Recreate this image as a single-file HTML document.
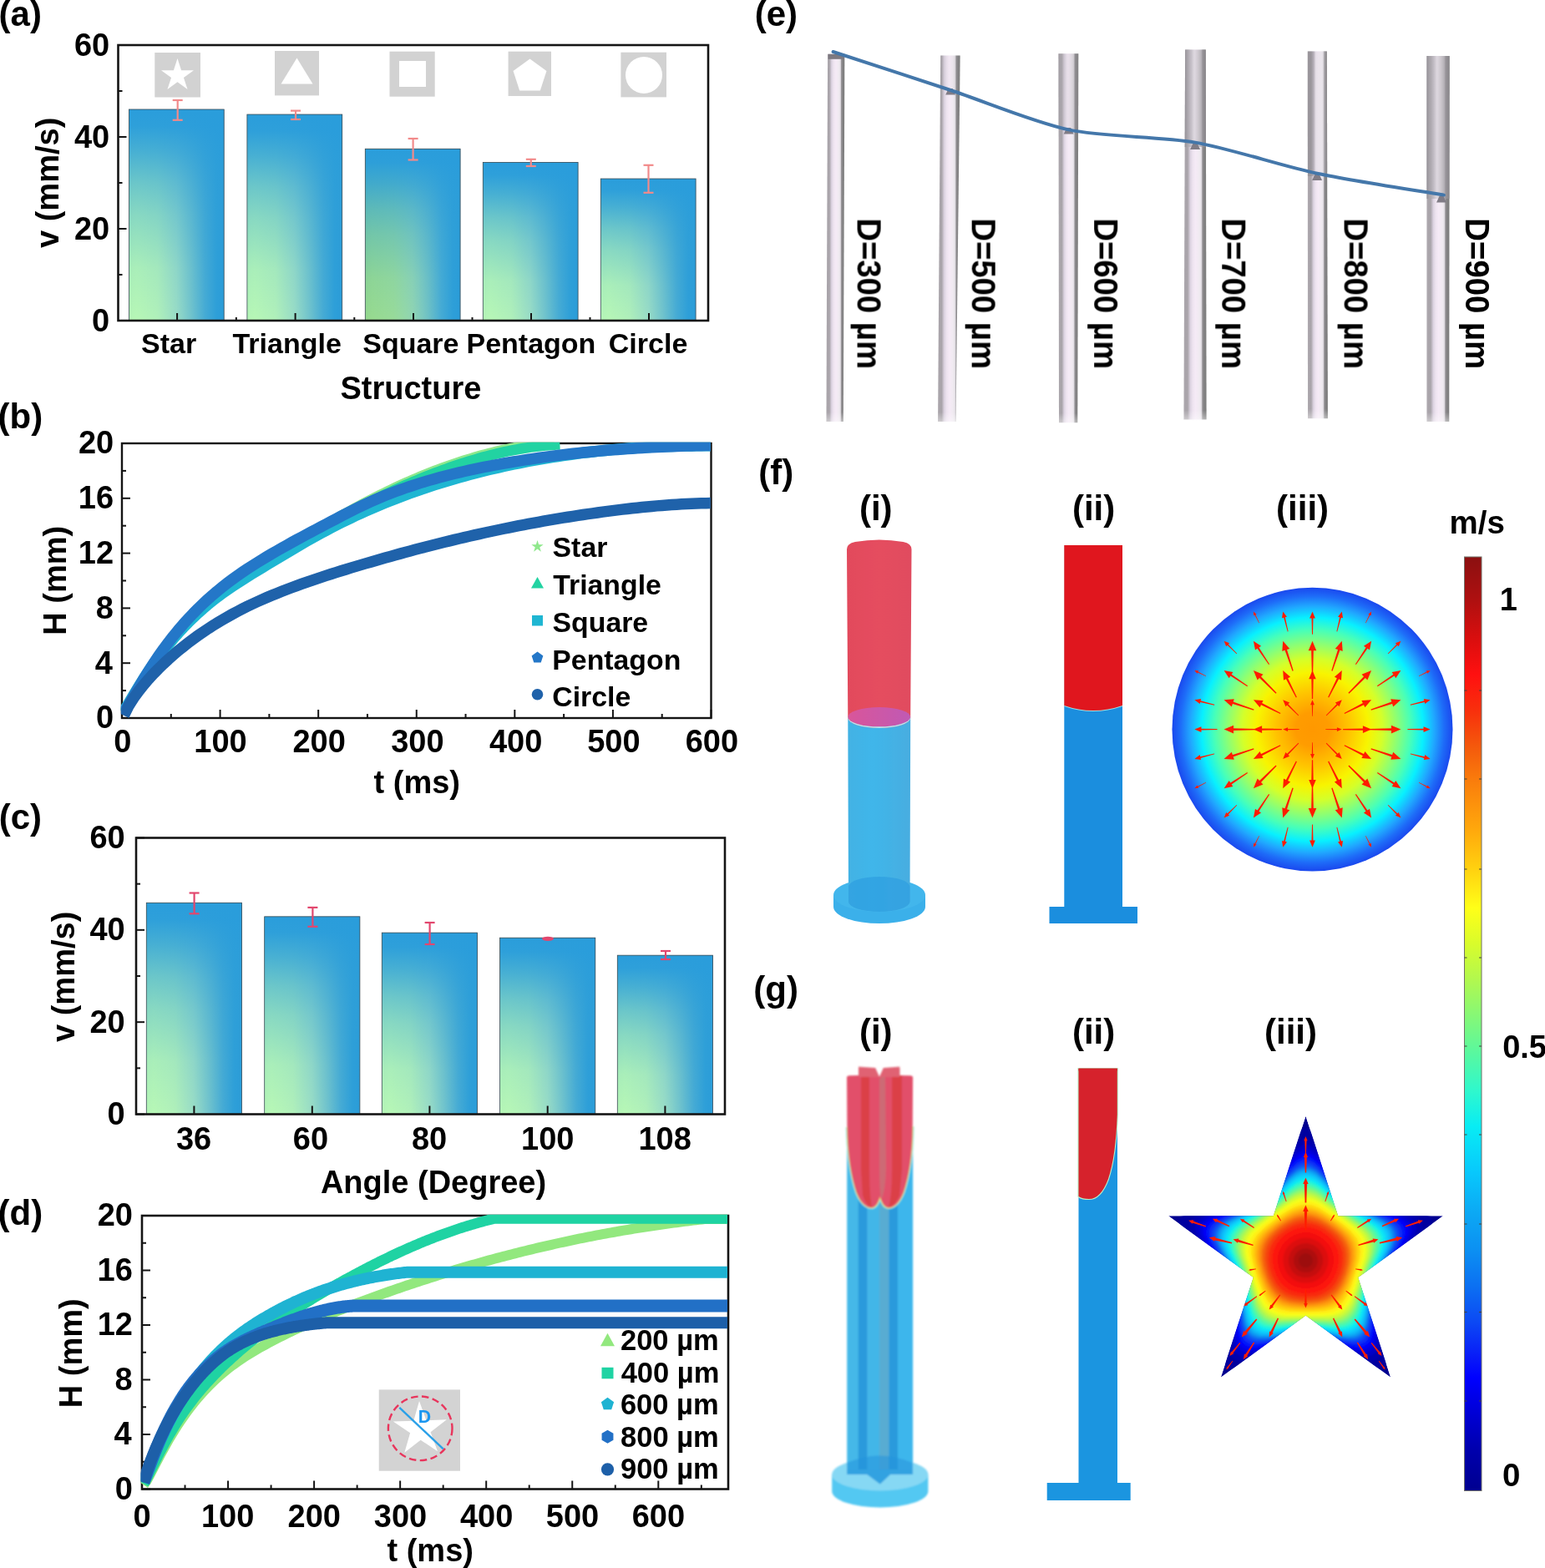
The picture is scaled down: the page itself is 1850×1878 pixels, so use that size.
<!DOCTYPE html>
<html lang="en">
<head>
<meta charset="utf-8">
<title>Figure</title>
<style>
html,body{margin:0;padding:0;background:#fff;}
body{width:1850px;height:1878px;overflow:hidden;}
svg{display:block;font-family:"Liberation Sans", Arial, Helvetica, sans-serif;}
</style>
</head>
<body>
<svg xmlns="http://www.w3.org/2000/svg" width="1850" height="1878" viewBox="0 0 1850 1878">
<rect width="1850" height="1878" fill="#fff"/>
<defs>
<linearGradient id="bh" x1="0" y1="0" x2="1" y2="0">
<stop offset="0" stop-color="#b4f5b6"/><stop offset="0.08" stop-color="#b7f7b6"/><stop offset="0.3" stop-color="#b0f0ba"/><stop offset="0.5" stop-color="#98dcc6"/><stop offset="0.65" stop-color="#72c4cc"/><stop offset="0.8" stop-color="#46abd4"/><stop offset="0.92" stop-color="#2e9fd8"/><stop offset="1" stop-color="#2a9cd8"/>
</linearGradient>
<linearGradient id="bo" x1="0" y1="0" x2="1" y2="0">
<stop offset="0" stop-color="#6cb45c" stop-opacity="0.45"/><stop offset="0.3" stop-color="#6cb45c" stop-opacity="0.35"/><stop offset="0.6" stop-color="#6cb45c" stop-opacity="0.1"/><stop offset="0.8" stop-color="#6cb45c" stop-opacity="0"/>
</linearGradient>
<linearGradient id="bv" x1="0" y1="0" x2="0" y2="1">
<stop offset="0" stop-color="#2a9ddb" stop-opacity="1"/><stop offset="0.08" stop-color="#2a9ddb" stop-opacity="0.97"/><stop offset="0.2" stop-color="#2c9eda" stop-opacity="0.8"/><stop offset="0.35" stop-color="#2e9fd9" stop-opacity="0.55"/><stop offset="0.5" stop-color="#30a0d8" stop-opacity="0.35"/><stop offset="0.75" stop-color="#30a0d8" stop-opacity="0.1"/><stop offset="1" stop-color="#30a0d8" stop-opacity="0"/>
</linearGradient>
<linearGradient id="cbar" x1="0" y1="1" x2="0" y2="0"><stop offset="0" stop-color="#000090"/><stop offset="0.043" stop-color="#0000ac"/><stop offset="0.082" stop-color="#0000d4"/><stop offset="0.121" stop-color="#0000ff"/><stop offset="0.141" stop-color="#0818f8"/><stop offset="0.18" stop-color="#0c48f4"/><stop offset="0.219" stop-color="#0c70f2"/><stop offset="0.258" stop-color="#0c90f2"/><stop offset="0.297" stop-color="#0ca8f4"/><stop offset="0.341" stop-color="#08c8fc"/><stop offset="0.39" stop-color="#08ecf4"/><stop offset="0.429" stop-color="#30f8cc"/><stop offset="0.468" stop-color="#58f8a0"/><stop offset="0.507" stop-color="#84f878"/><stop offset="0.546" stop-color="#b0f850"/><stop offset="0.585" stop-color="#d8fc2c"/><stop offset="0.624" stop-color="#ffff18"/><stop offset="0.663" stop-color="#ffd410"/><stop offset="0.708" stop-color="#ffa80c"/><stop offset="0.757" stop-color="#fa800c"/><stop offset="0.796" stop-color="#f45a0c"/><stop offset="0.835" stop-color="#f8300c"/><stop offset="0.874" stop-color="#ff1010"/><stop offset="0.91" stop-color="#dc0e0e"/><stop offset="0.952" stop-color="#b01010"/><stop offset="1.0" stop-color="#8b1010"/></linearGradient><radialGradient id="circ" cx="0.5" cy="0.5" r="0.5">
<stop offset="0" stop-color="#ff9800"/><stop offset="0.12" stop-color="#ff9c00"/><stop offset="0.26" stop-color="#ffc400"/><stop offset="0.40" stop-color="#f8f400"/>
<stop offset="0.50" stop-color="#d4ff2a"/><stop offset="0.60" stop-color="#90ff70"/><stop offset="0.70" stop-color="#48ffb8"/><stop offset="0.79" stop-color="#08f0ff"/>
<stop offset="0.87" stop-color="#20a8ff"/><stop offset="0.94" stop-color="#1e6cf8"/><stop offset="1" stop-color="#1a48ee"/></radialGradient><linearGradient id="tube" x1="0" y1="0" x2="1" y2="0">
<stop offset="0" stop-color="#b4b0b5"/><stop offset="0.05" stop-color="#aaa5ab"/><stop offset="0.17" stop-color="#a9a4aa"/><stop offset="0.29" stop-color="#dcd3e1"/><stop offset="0.4" stop-color="#eee4f0"/><stop offset="0.52" stop-color="#f5eaf6"/><stop offset="0.7" stop-color="#efeaf0"/><stop offset="0.77" stop-color="#e2dee4"/><stop offset="0.83" stop-color="#8e8c8f"/><stop offset="0.95" stop-color="#7c7c7c"/><stop offset="1" stop-color="#8c8c8c"/>
</linearGradient>
<linearGradient id="tubed" x1="0" y1="0" x2="1" y2="0">
<stop offset="0" stop-color="#8e8a90"/><stop offset="0.12" stop-color="#a9a5ab"/><stop offset="0.3" stop-color="#b6b2b8"/><stop offset="0.45" stop-color="#d6d2d8"/><stop offset="0.6" stop-color="#c2bec4"/><stop offset="0.8" stop-color="#9e9aa0"/><stop offset="1" stop-color="#8e8a90"/>
</linearGradient>
<linearGradient id="tubed5" x1="0" y1="0" x2="1" y2="0">
<stop offset="0" stop-color="#8a868c"/><stop offset="0.3" stop-color="#918d93"/><stop offset="0.42" stop-color="#dedae0"/><stop offset="0.75" stop-color="#e6e2e8"/><stop offset="0.9" stop-color="#a8a4aa"/><stop offset="1" stop-color="#8e8a90"/>
</linearGradient>
<linearGradient id="tfade" x1="0" y1="0" x2="0" y2="1"><stop offset="0" stop-color="#fff" stop-opacity="0"/><stop offset="0.6" stop-color="#fff" stop-opacity="0"/><stop offset="1" stop-color="#fff" stop-opacity="0.9"/></linearGradient>
<linearGradient id="redc" x1="0" y1="0" x2="1" y2="0"><stop offset="0" stop-color="#e24a5c"/><stop offset="0.5" stop-color="#e54d5f"/><stop offset="1" stop-color="#e04c5e"/></linearGradient>
<linearGradient id="bluec" x1="0" y1="0" x2="1" y2="0"><stop offset="0" stop-color="#43b2e4"/><stop offset="0.4" stop-color="#40b6ea"/><stop offset="1" stop-color="#47ade0"/></linearGradient>
<linearGradient id="purp" x1="0" y1="0" x2="1" y2="0"><stop offset="0" stop-color="#d9569a"/><stop offset="1" stop-color="#c05ab4"/></linearGradient>
<filter id="b1" x="-10%" y="-10%" width="120%" height="120%"><feGaussianBlur stdDeviation="0.7"/></filter>
<filter id="b2" x="-10%" y="-10%" width="120%" height="120%"><feGaussianBlur stdDeviation="1.2"/></filter>
</defs>
<g id="pa"><rect x="154.4" y="131" width="113.8" height="253" fill="url(#bh)"/><rect x="154.4" y="131" width="113.8" height="253" fill="url(#bv)" stroke="#3a4a55" stroke-width="0.8"/>
<rect x="295.9" y="137.05" width="113.8" height="246.95" fill="url(#bh)"/><rect x="295.9" y="137.05" width="113.8" height="246.95" fill="url(#bv)" stroke="#3a4a55" stroke-width="0.8"/>
<rect x="437.3" y="178.3" width="113.8" height="205.7" fill="url(#bh)"/><rect x="437.3" y="178.3" width="113.8" height="205.7" fill="url(#bo)"/><rect x="437.3" y="178.3" width="113.8" height="205.7" fill="url(#bv)" stroke="#3a4a55" stroke-width="0.8"/>
<rect x="578.3" y="194.52" width="113.8" height="189.48" fill="url(#bh)"/><rect x="578.3" y="194.52" width="113.8" height="189.48" fill="url(#bv)" stroke="#3a4a55" stroke-width="0.8"/>
<rect x="719.3" y="214.05" width="113.8" height="169.95" fill="url(#bh)"/><rect x="719.3" y="214.05" width="113.8" height="169.95" fill="url(#bv)" stroke="#3a4a55" stroke-width="0.8"/>
<line x1="141.5" y1="384" x2="151.5" y2="384" stroke="#141414" stroke-width="2"/>
<line x1="141.5" y1="274" x2="151.5" y2="274" stroke="#141414" stroke-width="2"/>
<line x1="141.5" y1="164" x2="151.5" y2="164" stroke="#141414" stroke-width="2"/>
<line x1="141.5" y1="54" x2="151.5" y2="54" stroke="#141414" stroke-width="2"/>
<line x1="141.5" y1="329" x2="146.5" y2="329" stroke="#141414" stroke-width="2"/>
<line x1="141.5" y1="219" x2="146.5" y2="219" stroke="#141414" stroke-width="2"/>
<line x1="141.5" y1="109" x2="146.5" y2="109" stroke="#141414" stroke-width="2"/>
<line x1="212.1" y1="384" x2="212.1" y2="375" stroke="#141414" stroke-width="2"/>
<line x1="353.6" y1="384" x2="353.6" y2="375" stroke="#141414" stroke-width="2"/>
<line x1="495" y1="384" x2="495" y2="375" stroke="#141414" stroke-width="2"/>
<line x1="636" y1="384" x2="636" y2="375" stroke="#141414" stroke-width="2"/>
<line x1="777" y1="384" x2="777" y2="375" stroke="#141414" stroke-width="2"/>
<line x1="282.85" y1="384" x2="282.85" y2="380" stroke="#141414" stroke-width="2"/>
<line x1="424.3" y1="384" x2="424.3" y2="380" stroke="#141414" stroke-width="2"/>
<line x1="565.5" y1="384" x2="565.5" y2="380" stroke="#141414" stroke-width="2"/>
<line x1="706.5" y1="384" x2="706.5" y2="380" stroke="#141414" stroke-width="2"/>
<rect x="141.5" y="54" width="706.5" height="330" fill="none" stroke="#141414" stroke-width="2.6"/>
<line x1="212.7" y1="120" x2="212.7" y2="143.8" stroke="#f28a8a" stroke-width="2.2"/><line x1="206.7" y1="120" x2="218.7" y2="120" stroke="#f28a8a" stroke-width="2.2"/><line x1="206.7" y1="143.8" x2="218.7" y2="143.8" stroke="#f28a8a" stroke-width="2.2"/>
<line x1="354" y1="132.6" x2="354" y2="143" stroke="#f28a8a" stroke-width="2.2"/><line x1="348" y1="132.6" x2="360" y2="132.6" stroke="#f28a8a" stroke-width="2.2"/><line x1="348" y1="143" x2="360" y2="143" stroke="#f28a8a" stroke-width="2.2"/>
<line x1="494.6" y1="166" x2="494.6" y2="191.5" stroke="#f28a8a" stroke-width="2.2"/><line x1="488.6" y1="166" x2="500.6" y2="166" stroke="#f28a8a" stroke-width="2.2"/><line x1="488.6" y1="191.5" x2="500.6" y2="191.5" stroke="#f28a8a" stroke-width="2.2"/>
<line x1="635.8" y1="190.8" x2="635.8" y2="199" stroke="#f28a8a" stroke-width="2.2"/><line x1="629.8" y1="190.8" x2="641.8" y2="190.8" stroke="#f28a8a" stroke-width="2.2"/><line x1="629.8" y1="199" x2="641.8" y2="199" stroke="#f28a8a" stroke-width="2.2"/>
<line x1="776.5" y1="197.8" x2="776.5" y2="230.8" stroke="#f28a8a" stroke-width="2.2"/><line x1="770.5" y1="197.8" x2="782.5" y2="197.8" stroke="#f28a8a" stroke-width="2.2"/><line x1="770.5" y1="230.8" x2="782.5" y2="230.8" stroke="#f28a8a" stroke-width="2.2"/>
<rect x="185.3" y="63" width="54.7" height="53.5" fill="#d2d2d2"/>
<path d="M212.5,70 L217.1,84.17 L232,84.17 L219.95,92.92 L224.55,107.08 L212.5,98.33 L200.45,107.08 L205.05,92.92 L193,84.17 L207.9,84.17Z" fill="#fff"/>
<rect x="329" y="61" width="53" height="53.4" fill="#d2d2d2"/>
<path d="M355.5,69.5 L374.5,100.5 L336.5,100.5Z" fill="#fff"/>
<rect x="466.5" y="61.7" width="54.2" height="54" fill="#d2d2d2"/>
<rect x="478" y="73" width="32" height="31" fill="#fff"/>
<rect x="608.6" y="61.7" width="51.4" height="53.3" fill="#d2d2d2"/>
<path d="M634.5,70.5 L654.47,85.01 L646.84,108.49 L622.16,108.49 L614.53,85.01Z" fill="#fff"/>
<rect x="743.4" y="62.7" width="54.6" height="53.7" fill="#d2d2d2"/>
<circle cx="771" cy="90" r="22" fill="#fff"/>
<text x="-1.44" y="31.4" font-size="42" font-weight="bold" fill="#000">(a)</text>
<text x="110.03" y="397.27" font-size="38" font-weight="bold" fill="#000">0</text>
<text x="88.94" y="287.27" font-size="38" font-weight="bold" fill="#000">20</text>
<text x="88.94" y="177.27" font-size="38" font-weight="bold" fill="#000">40</text>
<text x="88.94" y="67.27" font-size="38" font-weight="bold" fill="#000">60</text>
<text x="169.08" y="423" font-size="34" font-weight="bold" fill="#000">Star</text>
<text x="278.48" y="423" font-size="34" font-weight="bold" fill="#000">Triangle</text>
<text x="434.21" y="423" font-size="34" font-weight="bold" fill="#000">Square</text>
<text x="558.49" y="423" font-size="34" font-weight="bold" fill="#000">Pentagon</text>
<text x="728.81" y="423" font-size="34" font-weight="bold" fill="#000">Circle</text>
<text x="407.49" y="477.5" font-size="38" font-weight="bold" fill="#000">Structure</text>
<text transform="translate(69.6 296.98) rotate(-90)" font-size="38" font-weight="bold" fill="#000">v (mm/s)</text></g>
<g id="pb"><clipPath id="cb"><rect x="144.8" y="529.8" width="706" height="331.4"/></clipPath>
<rect x="146" y="531" width="705.5" height="329" fill="none" stroke="#141414" stroke-width="2.4"/>
<line x1="146" y1="860" x2="146" y2="850" stroke="#141414" stroke-width="2"/>
<line x1="204.79" y1="860" x2="204.79" y2="855" stroke="#141414" stroke-width="2"/>
<line x1="263.58" y1="860" x2="263.58" y2="850" stroke="#141414" stroke-width="2"/>
<line x1="322.38" y1="860" x2="322.38" y2="855" stroke="#141414" stroke-width="2"/>
<line x1="381.17" y1="860" x2="381.17" y2="850" stroke="#141414" stroke-width="2"/>
<line x1="439.96" y1="860" x2="439.96" y2="855" stroke="#141414" stroke-width="2"/>
<line x1="498.75" y1="860" x2="498.75" y2="850" stroke="#141414" stroke-width="2"/>
<line x1="557.54" y1="860" x2="557.54" y2="855" stroke="#141414" stroke-width="2"/>
<line x1="616.33" y1="860" x2="616.33" y2="850" stroke="#141414" stroke-width="2"/>
<line x1="675.12" y1="860" x2="675.12" y2="855" stroke="#141414" stroke-width="2"/>
<line x1="733.92" y1="860" x2="733.92" y2="850" stroke="#141414" stroke-width="2"/>
<line x1="792.71" y1="860" x2="792.71" y2="855" stroke="#141414" stroke-width="2"/>
<line x1="851.5" y1="860" x2="851.5" y2="850" stroke="#141414" stroke-width="2"/>
<line x1="146" y1="860" x2="156" y2="860" stroke="#141414" stroke-width="2"/>
<line x1="146" y1="827.1" x2="151" y2="827.1" stroke="#141414" stroke-width="2"/>
<line x1="146" y1="794.2" x2="156" y2="794.2" stroke="#141414" stroke-width="2"/>
<line x1="146" y1="761.3" x2="151" y2="761.3" stroke="#141414" stroke-width="2"/>
<line x1="146" y1="728.4" x2="156" y2="728.4" stroke="#141414" stroke-width="2"/>
<line x1="146" y1="695.5" x2="151" y2="695.5" stroke="#141414" stroke-width="2"/>
<line x1="146" y1="662.6" x2="156" y2="662.6" stroke="#141414" stroke-width="2"/>
<line x1="146" y1="629.7" x2="151" y2="629.7" stroke="#141414" stroke-width="2"/>
<line x1="146" y1="596.8" x2="156" y2="596.8" stroke="#141414" stroke-width="2"/>
<line x1="146" y1="563.9" x2="151" y2="563.9" stroke="#141414" stroke-width="2"/>
<line x1="146" y1="531" x2="156" y2="531" stroke="#141414" stroke-width="2"/>
<g clip-path="url(#cb)">
<path d="M148.35,853.41 L152.68,846.64 L157.01,839.33 L161.34,832.02 L165.66,824.84 L169.99,817.82 L174.32,810.99 L178.65,804.36 L182.97,797.92 L187.3,791.68 L191.63,785.63 L195.96,779.76 L200.29,774.08 L204.61,768.58 L208.94,763.26 L213.27,758.11 L217.6,753.12 L221.93,748.29 L226.25,743.61 L230.58,739.09 L234.91,734.7 L239.24,730.46 L243.56,726.35 L247.89,722.38 L252.22,718.54 L256.55,714.82 L260.88,711.23 L265.2,707.76 L269.53,704.41 L273.86,701.16 L278.19,698 L282.52,694.93 L286.84,691.93 L291.17,688.99 L295.5,686.12 L299.83,683.29 L304.15,680.51 L308.48,677.77 L312.81,675.07 L317.14,672.39 L321.47,669.73 L325.79,667.1 L330.12,664.48 L334.45,661.87 L338.78,659.27 L343.11,656.67 L347.43,654.08 L351.76,651.48 L356.09,648.88 L360.42,646.28 L364.74,643.69 L369.07,641.09 L373.4,638.51 L377.73,635.93 L382.06,633.35 L386.38,630.8 L390.71,628.25 L395.04,625.72 L399.37,623.2 L403.7,620.7 L408.02,618.22 L412.35,615.76 L416.68,613.33 L421.01,610.91 L425.33,608.52 L429.66,606.16 L433.99,603.83 L438.32,601.53 L442.65,599.25 L446.97,597.01 L451.3,594.8 L455.63,592.63 L459.96,590.48 L464.29,588.37 L468.61,586.29 L472.94,584.24 L477.27,582.23 L481.6,580.24 L485.92,578.3 L490.25,576.38 L494.58,574.5 L498.91,572.66 L503.24,570.85 L507.56,569.07 L511.89,567.32 L516.22,565.62 L520.55,563.94 L524.88,562.3 L529.2,560.7 L533.53,559.13 L537.86,557.59 L542.19,556.09 L546.51,554.63 L550.84,553.2 L555.17,551.8 L559.5,550.44 L563.83,549.12 L568.15,547.83 L572.48,546.58 L576.81,545.36 L581.14,544.19 L585.47,543.06 L589.79,541.96 L594.12,540.91 L598.45,539.9 L602.78,538.93 L607.1,538.01 L611.43,537.13 L615.76,536.29 L620.09,535.5 L624.42,534.76 L628.74,534.06 L633.07,533.41 L637.4,532.81 L641.73,532.26 L646.06,531.76 L650.38,531.3 L654.71,530.9 L659.04,530.54 L663.37,530.24" fill="none" stroke="#8fe88c" stroke-width="12.5" stroke-linejoin="round" stroke-linecap="butt"/>
<path d="M148.35,853.41 L152.74,846.2 L157.13,838.74 L161.51,831.37 L165.9,824.17 L170.29,817.16 L174.67,810.34 L179.06,803.72 L183.45,797.29 L187.84,791.05 L192.22,784.99 L196.61,779.11 L201,773.41 L205.38,767.87 L209.77,762.5 L214.16,757.3 L218.55,752.25 L222.93,747.35 L227.32,742.61 L231.71,738.02 L236.09,733.57 L240.48,729.27 L244.87,725.1 L249.26,721.08 L253.64,717.19 L258.03,713.43 L262.42,709.81 L266.8,706.31 L271.19,702.93 L275.58,699.66 L279.97,696.49 L284.35,693.4 L288.74,690.39 L293.13,687.45 L297.51,684.57 L301.9,681.75 L306.29,678.97 L310.68,676.24 L315.06,673.54 L319.45,670.87 L323.84,668.24 L328.22,665.62 L332.61,663.02 L337,660.44 L341.39,657.87 L345.77,655.3 L350.16,652.74 L354.55,650.18 L358.93,647.63 L363.32,645.08 L367.71,642.53 L372.1,640 L376.48,637.47 L380.87,634.96 L385.26,632.45 L389.64,629.97 L394.03,627.49 L398.42,625.04 L402.81,622.6 L407.19,620.18 L411.58,617.79 L415.97,615.41 L420.35,613.05 L424.74,610.72 L429.13,608.41 L433.52,606.12 L437.9,603.86 L442.29,601.63 L446.68,599.42 L451.06,597.23 L455.45,595.08 L459.84,592.95 L464.23,590.85 L468.61,588.79 L473,586.75 L477.39,584.74 L481.77,582.76 L486.16,580.81 L490.55,578.89 L494.94,577.01 L499.32,575.16 L503.71,573.34 L508.1,571.55 L512.48,569.8 L516.87,568.07 L521.26,566.39 L525.65,564.73 L530.03,563.11 L534.42,561.53 L538.81,559.98 L543.19,558.46 L547.58,556.98 L551.97,555.54 L556.36,554.13 L560.74,552.76 L565.13,551.42 L569.52,550.12 L573.9,548.86 L578.29,547.64 L582.68,546.45 L587.07,545.31 L591.45,544.21 L595.84,543.15 L600.23,542.14 L604.61,541.17 L609,540.24 L613.39,539.36 L617.78,538.53 L622.16,537.75 L626.55,537.01 L630.94,536.32 L635.32,535.68 L639.71,535.09 L644.1,534.55 L648.49,534.06 L652.87,533.62 L657.26,533.24 L661.65,532.91 L666.03,532.63 L670.42,532.4" fill="none" stroke="#22d3a2" stroke-width="12.5" stroke-linejoin="round" stroke-linecap="butt"/>
<path d="M148.35,851.77 L154.26,842.27 L160.17,832.24 L166.08,822.43 L171.99,813 L177.9,803.98 L183.8,795.37 L189.71,787.16 L195.62,779.35 L201.53,771.93 L207.44,764.88 L213.35,758.18 L219.26,751.81 L225.17,745.74 L231.07,739.95 L236.98,734.43 L242.89,729.16 L248.8,724.13 L254.71,719.33 L260.62,714.74 L266.53,710.37 L272.44,706.18 L278.35,702.15 L284.25,698.25 L290.16,694.45 L296.07,690.73 L301.98,687.07 L307.89,683.46 L313.8,679.88 L319.71,676.31 L325.62,672.74 L331.52,669.18 L337.43,665.63 L343.34,662.09 L349.25,658.59 L355.16,655.11 L361.07,651.67 L366.98,648.27 L372.89,644.92 L378.8,641.63 L384.7,638.39 L390.61,635.21 L396.52,632.09 L402.43,629.05 L408.34,626.07 L414.25,623.16 L420.16,620.31 L426.07,617.52 L431.97,614.8 L437.88,612.14 L443.79,609.54 L449.7,607 L455.61,604.52 L461.52,602.09 L467.43,599.72 L473.34,597.4 L479.24,595.13 L485.15,592.92 L491.06,590.76 L496.97,588.65 L502.88,586.59 L508.79,584.58 L514.7,582.61 L520.61,580.7 L526.52,578.83 L532.42,577 L538.33,575.23 L544.24,573.49 L550.15,571.8 L556.06,570.16 L561.97,568.56 L567.88,567 L573.79,565.48 L579.69,564 L585.6,562.56 L591.51,561.17 L597.42,559.81 L603.33,558.49 L609.24,557.22 L615.15,555.98 L621.06,554.77 L626.97,553.61 L632.87,552.48 L638.78,551.39 L644.69,550.34 L650.6,549.32 L656.51,548.33 L662.42,547.39 L668.33,546.47 L674.24,545.6 L680.14,544.75 L686.05,543.94 L691.96,543.16 L697.87,542.42 L703.78,541.71 L709.69,541.03 L715.6,540.38 L721.51,539.77 L727.41,539.19 L733.32,538.64 L739.23,538.12 L745.14,537.63 L751.05,537.17 L756.96,536.74 L762.87,536.34 L768.78,535.98 L774.69,535.64 L780.59,535.33 L786.5,535.05 L792.41,534.8 L798.32,534.58 L804.23,534.38 L810.14,534.22 L816.05,534.08 L821.96,533.97 L827.86,533.89 L833.77,533.84 L839.68,533.81 L845.59,533.81 L851.5,533.84" fill="none" stroke="#1fb6d2" stroke-width="13.5" stroke-linejoin="round" stroke-linecap="butt"/>
<path d="M148.35,853.4 L154.26,843.9 L160.17,833.51 L166.08,823.25 L171.99,813.31 L177.9,803.76 L183.8,794.6 L189.71,785.85 L195.62,777.5 L201.53,769.54 L207.44,761.95 L213.35,754.73 L219.26,747.85 L225.17,741.28 L231.07,735 L236.98,729 L242.89,723.27 L248.8,717.78 L254.71,712.54 L260.62,707.53 L266.53,702.74 L272.44,698.15 L278.35,693.75 L284.25,689.51 L290.16,685.42 L296.07,681.45 L301.98,677.61 L307.89,673.87 L313.8,670.22 L319.71,666.65 L325.62,663.16 L331.52,659.73 L337.43,656.36 L343.34,653.04 L349.25,649.76 L355.16,646.52 L361.07,643.32 L366.98,640.14 L372.89,636.98 L378.8,633.85 L384.7,630.72 L390.61,627.61 L396.52,624.51 L402.43,621.41 L408.34,618.32 L414.25,615.26 L420.16,612.24 L426.07,609.28 L431.97,606.39 L437.88,603.59 L443.79,600.88 L449.7,598.27 L455.61,595.76 L461.52,593.34 L467.43,591.01 L473.34,588.76 L479.24,586.6 L485.15,584.51 L491.06,582.5 L496.97,580.55 L502.88,578.68 L508.79,576.87 L514.7,575.13 L520.61,573.44 L526.52,571.81 L532.42,570.24 L538.33,568.73 L544.24,567.26 L550.15,565.85 L556.06,564.48 L561.97,563.15 L567.88,561.88 L573.79,560.64 L579.69,559.44 L585.6,558.28 L591.51,557.16 L597.42,556.07 L603.33,555.02 L609.24,554 L615.15,553.01 L621.06,552.05 L626.97,551.12 L632.87,550.22 L638.78,549.35 L644.69,548.5 L650.6,547.68 L656.51,546.89 L662.42,546.13 L668.33,545.39 L674.24,544.67 L680.14,543.98 L686.05,543.32 L691.96,542.68 L697.87,542.07 L703.78,541.47 L709.69,540.91 L715.6,540.36 L721.51,539.84 L727.41,539.34 L733.32,538.86 L739.23,538.4 L745.14,537.96 L751.05,537.55 L756.96,537.16 L762.87,536.78 L768.78,536.43 L774.69,536.1 L780.59,535.78 L786.5,535.49 L792.41,535.22 L798.32,534.96 L804.23,534.72 L810.14,534.5 L816.05,534.3 L821.96,534.12 L827.86,533.96 L833.77,533.81 L839.68,533.68 L845.59,533.57 L851.5,533.48" fill="none" stroke="#2477c8" stroke-width="13.5" stroke-linejoin="round" stroke-linecap="butt"/>
<path d="M148.35,856.89 L154.26,845.05 L160.17,835.8 L166.08,827.69 L171.99,820.31 L177.9,813.46 L183.8,807.04 L189.71,800.98 L195.62,795.22 L201.53,789.74 L207.44,784.5 L213.35,779.48 L219.26,774.67 L225.17,770.05 L231.07,765.61 L236.98,761.34 L242.89,757.22 L248.8,753.26 L254.71,749.45 L260.62,745.77 L266.53,742.22 L272.44,738.81 L278.35,735.51 L284.25,732.34 L290.16,729.28 L296.07,726.33 L301.98,723.49 L307.89,720.75 L313.8,718.1 L319.71,715.53 L325.62,713.04 L331.52,710.63 L337.43,708.28 L343.34,705.99 L349.25,703.76 L355.16,701.58 L361.07,699.45 L366.98,697.36 L372.89,695.32 L378.8,693.32 L384.7,691.35 L390.61,689.41 L396.52,687.51 L402.43,685.64 L408.34,683.79 L414.25,681.97 L420.16,680.16 L426.07,678.38 L431.97,676.62 L437.88,674.88 L443.79,673.15 L449.7,671.44 L455.61,669.74 L461.52,668.06 L467.43,666.39 L473.34,664.75 L479.24,663.12 L485.15,661.51 L491.06,659.91 L496.97,658.34 L502.88,656.78 L508.79,655.24 L514.7,653.72 L520.61,652.22 L526.52,650.73 L532.42,649.27 L538.33,647.83 L544.24,646.4 L550.15,645 L556.06,643.61 L561.97,642.25 L567.88,640.9 L573.79,639.58 L579.69,638.27 L585.6,636.99 L591.51,635.73 L597.42,634.48 L603.33,633.26 L609.24,632.06 L615.15,630.88 L621.06,629.72 L626.97,628.58 L632.87,627.46 L638.78,626.36 L644.69,625.28 L650.6,624.22 L656.51,623.19 L662.42,622.17 L668.33,621.18 L674.24,620.2 L680.14,619.25 L686.05,618.32 L691.96,617.41 L697.87,616.52 L703.78,615.66 L709.69,614.81 L715.6,613.98 L721.51,613.18 L727.41,612.4 L733.32,611.63 L739.23,610.89 L745.14,610.17 L751.05,609.48 L756.96,608.81 L762.87,608.17 L768.78,607.55 L774.69,606.97 L780.59,606.41 L786.5,605.89 L792.41,605.4 L798.32,604.95 L804.23,604.53 L810.14,604.15 L816.05,603.8 L821.96,603.49 L827.86,603.23 L833.77,603 L839.68,602.82 L845.59,602.67 L851.5,602.58" fill="none" stroke="#1f62aa" stroke-width="13.5" stroke-linejoin="round" stroke-linecap="butt"/>
</g>
<text x="661.59" y="667" font-size="33.8" font-weight="bold" fill="#000">Star</text>
<text x="662.26" y="712" font-size="33.8" font-weight="bold" fill="#000">Triangle</text>
<text x="661.59" y="757.1" font-size="33.8" font-weight="bold" fill="#000">Square</text>
<text x="661.32" y="802.3" font-size="33.8" font-weight="bold" fill="#000">Pentagon</text>
<text x="661.25" y="846.4" font-size="33.8" font-weight="bold" fill="#000">Circle</text>
<path d="M643.5,647.1 L645.18,652.28 L650.63,652.28 L646.22,655.49 L647.91,660.67 L643.5,657.46 L639.09,660.67 L640.78,655.49 L636.37,652.28 L641.82,652.28Z" fill="#8fe88c"/>
<path d="M643.5,691.1 L651.0,704.6 L636.0,704.6Z" fill="#22d3a2"/>
<rect x="637" y="737" width="13" height="12.5" fill="#1fb6d2"/>
<path d="M643.5,780.4 L650.35,785.38 L647.73,793.42 L639.27,793.42 L636.65,785.38Z" fill="#2477c8"/>
<circle cx="643.5" cy="831.7" r="6.8" fill="#1f62aa"/>
<text x="-2.53" y="513" font-size="42" font-weight="bold" fill="#000">(b)</text>
<text x="115.03" y="872.37" font-size="38" font-weight="bold" fill="#000">0</text>
<text x="113.7" y="806.57" font-size="38" font-weight="bold" fill="#000">4</text>
<text x="114.65" y="740.77" font-size="38" font-weight="bold" fill="#000">8</text>
<text x="93.84" y="674.97" font-size="38" font-weight="bold" fill="#000">12</text>
<text x="93.75" y="609.17" font-size="38" font-weight="bold" fill="#000">16</text>
<text x="93.94" y="543.37" font-size="38" font-weight="bold" fill="#000">20</text>
<text x="136.25" y="901.2" font-size="38" font-weight="bold" fill="#000">0</text>
<text x="232.27" y="901.2" font-size="38" font-weight="bold" fill="#000">100</text>
<text x="350.38" y="901.2" font-size="38" font-weight="bold" fill="#000">200</text>
<text x="468.2" y="901.2" font-size="38" font-weight="bold" fill="#000">300</text>
<text x="585.93" y="901.2" font-size="38" font-weight="bold" fill="#000">400</text>
<text x="703.22" y="901.2" font-size="38" font-weight="bold" fill="#000">500</text>
<text x="820.66" y="901.2" font-size="38" font-weight="bold" fill="#000">600</text>
<text x="447.59" y="950.3" font-size="38" font-weight="bold" fill="#000">t (ms)</text>
<text transform="translate(79.2 760.64) rotate(-90)" font-size="38" font-weight="bold" fill="#000">H (mm)</text></g>
<g id="pc"><rect x="175.3" y="1081.29" width="114.2" height="253.21" fill="url(#bh)"/><rect x="175.3" y="1081.29" width="114.2" height="253.21" fill="url(#bv)" stroke="#3a4a55" stroke-width="0.8"/>
<rect x="316.7" y="1097.84" width="114.2" height="236.66" fill="url(#bh)"/><rect x="316.7" y="1097.84" width="114.2" height="236.66" fill="url(#bv)" stroke="#3a4a55" stroke-width="0.8"/>
<rect x="457.3" y="1117.14" width="114.2" height="217.36" fill="url(#bh)"/><rect x="457.3" y="1117.14" width="114.2" height="217.36" fill="url(#bv)" stroke="#3a4a55" stroke-width="0.8"/>
<rect x="598.6" y="1123.21" width="114.2" height="211.29" fill="url(#bh)"/><rect x="598.6" y="1123.21" width="114.2" height="211.29" fill="url(#bv)" stroke="#3a4a55" stroke-width="0.8"/>
<rect x="739.3" y="1144.17" width="114.2" height="190.33" fill="url(#bh)"/><rect x="739.3" y="1144.17" width="114.2" height="190.33" fill="url(#bv)" stroke="#3a4a55" stroke-width="0.8"/>
<line x1="163" y1="1334.5" x2="173" y2="1334.5" stroke="#141414" stroke-width="2"/>
<line x1="163" y1="1224.17" x2="173" y2="1224.17" stroke="#141414" stroke-width="2"/>
<line x1="163" y1="1113.83" x2="173" y2="1113.83" stroke="#141414" stroke-width="2"/>
<line x1="163" y1="1003.5" x2="173" y2="1003.5" stroke="#141414" stroke-width="2"/>
<line x1="163" y1="1279.33" x2="168" y2="1279.33" stroke="#141414" stroke-width="2"/>
<line x1="163" y1="1169" x2="168" y2="1169" stroke="#141414" stroke-width="2"/>
<line x1="163" y1="1058.67" x2="168" y2="1058.67" stroke="#141414" stroke-width="2"/>
<line x1="232.4" y1="1334.5" x2="232.4" y2="1324.5" stroke="#141414" stroke-width="2"/>
<line x1="373.8" y1="1334.5" x2="373.8" y2="1324.5" stroke="#141414" stroke-width="2"/>
<line x1="514.4" y1="1334.5" x2="514.4" y2="1324.5" stroke="#141414" stroke-width="2"/>
<line x1="655.7" y1="1334.5" x2="655.7" y2="1324.5" stroke="#141414" stroke-width="2"/>
<line x1="796.4" y1="1334.5" x2="796.4" y2="1324.5" stroke="#141414" stroke-width="2"/>
<rect x="163" y="1003.5" width="705" height="331" fill="none" stroke="#141414" stroke-width="2.6"/>
<line x1="232.6" y1="1069.5" x2="232.6" y2="1094.3" stroke="#e2476e" stroke-width="2.2"/><line x1="226.6" y1="1069.5" x2="238.6" y2="1069.5" stroke="#e2476e" stroke-width="2.2"/><line x1="226.6" y1="1094.3" x2="238.6" y2="1094.3" stroke="#e2476e" stroke-width="2.2"/>
<line x1="374.4" y1="1086.9" x2="374.4" y2="1109.8" stroke="#e2476e" stroke-width="2.2"/><line x1="368.4" y1="1086.9" x2="380.4" y2="1086.9" stroke="#e2476e" stroke-width="2.2"/><line x1="368.4" y1="1109.8" x2="380.4" y2="1109.8" stroke="#e2476e" stroke-width="2.2"/>
<line x1="514.6" y1="1105" x2="514.6" y2="1131" stroke="#e2476e" stroke-width="2.2"/><line x1="508.6" y1="1105" x2="520.6" y2="1105" stroke="#e2476e" stroke-width="2.2"/><line x1="508.6" y1="1131" x2="520.6" y2="1131" stroke="#e2476e" stroke-width="2.2"/>
<line x1="797" y1="1139" x2="797" y2="1149" stroke="#e2476e" stroke-width="2.2"/><line x1="791" y1="1139" x2="803" y2="1139" stroke="#e2476e" stroke-width="2.2"/><line x1="791" y1="1149" x2="803" y2="1149" stroke="#e2476e" stroke-width="2.2"/>
<ellipse cx="656" cy="1124.3" rx="7" ry="2.6" fill="#e2476e"/>
<text x="-1.37" y="993.4" font-size="42" font-weight="bold" fill="#000">(c)</text>
<text x="128.53" y="1347.07" font-size="38" font-weight="bold" fill="#000">0</text>
<text x="107.44" y="1236.74" font-size="38" font-weight="bold" fill="#000">20</text>
<text x="107.44" y="1126.41" font-size="38" font-weight="bold" fill="#000">40</text>
<text x="107.44" y="1016.07" font-size="38" font-weight="bold" fill="#000">60</text>
<text x="210.95" y="1377.2" font-size="38" font-weight="bold" fill="#000">36</text>
<text x="350.86" y="1377.2" font-size="38" font-weight="bold" fill="#000">60</text>
<text x="492.95" y="1377.2" font-size="38" font-weight="bold" fill="#000">80</text>
<text x="624.09" y="1377.2" font-size="38" font-weight="bold" fill="#000">100</text>
<text x="764.4" y="1377.2" font-size="38" font-weight="bold" fill="#000">108</text>
<text x="383.89" y="1428.6" font-size="38" font-weight="bold" fill="#000">Angle (Degree)</text>
<text transform="translate(88.8 1247.98) rotate(-90)" font-size="38" font-weight="bold" fill="#000">v (mm/s)</text></g>
<g id="pd"><clipPath id="cd"><rect x="168.7" y="1454.7" width="702.3" height="330.1"/></clipPath>
<rect x="170" y="1456" width="702" height="327.5" fill="none" stroke="#141414" stroke-width="2.6"/>
<line x1="170" y1="1783.5" x2="170" y2="1773.5" stroke="#141414" stroke-width="2"/>
<line x1="221.53" y1="1783.5" x2="221.53" y2="1778.5" stroke="#141414" stroke-width="2"/>
<line x1="273.05" y1="1783.5" x2="273.05" y2="1773.5" stroke="#141414" stroke-width="2"/>
<line x1="324.57" y1="1783.5" x2="324.57" y2="1778.5" stroke="#141414" stroke-width="2"/>
<line x1="376.1" y1="1783.5" x2="376.1" y2="1773.5" stroke="#141414" stroke-width="2"/>
<line x1="427.62" y1="1783.5" x2="427.62" y2="1778.5" stroke="#141414" stroke-width="2"/>
<line x1="479.15" y1="1783.5" x2="479.15" y2="1773.5" stroke="#141414" stroke-width="2"/>
<line x1="530.67" y1="1783.5" x2="530.67" y2="1778.5" stroke="#141414" stroke-width="2"/>
<line x1="582.2" y1="1783.5" x2="582.2" y2="1773.5" stroke="#141414" stroke-width="2"/>
<line x1="633.72" y1="1783.5" x2="633.72" y2="1778.5" stroke="#141414" stroke-width="2"/>
<line x1="685.25" y1="1783.5" x2="685.25" y2="1773.5" stroke="#141414" stroke-width="2"/>
<line x1="736.77" y1="1783.5" x2="736.77" y2="1778.5" stroke="#141414" stroke-width="2"/>
<line x1="788.3" y1="1783.5" x2="788.3" y2="1773.5" stroke="#141414" stroke-width="2"/>
<line x1="839.82" y1="1783.5" x2="839.82" y2="1778.5" stroke="#141414" stroke-width="2"/>
<line x1="170" y1="1783.5" x2="180" y2="1783.5" stroke="#141414" stroke-width="2"/>
<line x1="170" y1="1750.75" x2="175" y2="1750.75" stroke="#141414" stroke-width="2"/>
<line x1="170" y1="1718" x2="180" y2="1718" stroke="#141414" stroke-width="2"/>
<line x1="170" y1="1685.25" x2="175" y2="1685.25" stroke="#141414" stroke-width="2"/>
<line x1="170" y1="1652.5" x2="180" y2="1652.5" stroke="#141414" stroke-width="2"/>
<line x1="170" y1="1619.75" x2="175" y2="1619.75" stroke="#141414" stroke-width="2"/>
<line x1="170" y1="1587" x2="180" y2="1587" stroke="#141414" stroke-width="2"/>
<line x1="170" y1="1554.25" x2="175" y2="1554.25" stroke="#141414" stroke-width="2"/>
<line x1="170" y1="1521.5" x2="180" y2="1521.5" stroke="#141414" stroke-width="2"/>
<line x1="170" y1="1488.75" x2="175" y2="1488.75" stroke="#141414" stroke-width="2"/>
<line x1="170" y1="1456" x2="180" y2="1456" stroke="#141414" stroke-width="2"/>
<g clip-path="url(#cd)">
<path d="M172.06,1778.65 L175.45,1773.8 L178.84,1767.59 L182.24,1761.05 L185.63,1754.47 L189.02,1747.95 L192.41,1741.55 L195.8,1735.31 L199.2,1729.25 L202.59,1723.36 L205.98,1717.67 L209.37,1712.16 L212.76,1706.84 L216.16,1701.72 L219.55,1696.78 L222.94,1692.04 L226.33,1687.47 L229.72,1683.08 L233.11,1678.85 L236.51,1674.77 L239.9,1670.85 L243.29,1667.06 L246.68,1663.42 L250.07,1659.91 L253.47,1656.52 L256.86,1653.26 L260.25,1650.11 L263.64,1647.08 L267.03,1644.17 L270.42,1641.36 L273.82,1638.66 L277.21,1636.06 L280.6,1633.56 L283.99,1631.14 L287.38,1628.8 L290.78,1626.53 L294.17,1624.33 L297.56,1622.19 L300.95,1620.11 L304.34,1618.08 L307.73,1616.1 L311.13,1614.16 L314.52,1612.25 L317.91,1610.39 L321.3,1608.55 L324.69,1606.74 L328.09,1604.96 L331.48,1603.21 L334.87,1601.47 L338.26,1599.77 L341.65,1598.08 L345.05,1596.41 L348.44,1594.77 L351.83,1593.14 L355.22,1591.54 L358.61,1589.95 L362,1588.38 L365.4,1586.83 L368.79,1585.3 L372.18,1583.78 L375.57,1582.28 L378.96,1580.8 L382.36,1579.33 L385.75,1577.88 L389.14,1576.44 L392.53,1575.01 L395.92,1573.6 L399.31,1572.2 L402.71,1570.81 L406.1,1569.44 L409.49,1568.08 L412.88,1566.73 L416.27,1565.39 L419.67,1564.06 L423.06,1562.74 L426.45,1561.44 L429.84,1560.14 L433.23,1558.86 L436.63,1557.59 L440.02,1556.32 L443.41,1555.07 L446.8,1553.82 L450.19,1552.58 L453.58,1551.35 L456.98,1550.13 L460.37,1548.92 L463.76,1547.72 L467.15,1546.53 L470.54,1545.34 L473.94,1544.16 L477.33,1542.99 L480.72,1541.82 L484.11,1540.67 L487.5,1539.52 L490.89,1538.37 L494.29,1537.24 L497.68,1536.11 L501.07,1534.99 L504.46,1533.88 L507.85,1532.77 L511.25,1531.67 L514.64,1530.58 L518.03,1529.5 L521.42,1528.43 L524.81,1527.36 L528.2,1526.3 L531.6,1525.24 L534.99,1524.2 L538.38,1523.16 L541.77,1522.13 L545.16,1521.1 L548.56,1520.09 L551.95,1519.08 L555.34,1518.08 L558.73,1517.09 L562.12,1516.1 L565.52,1515.12 L568.91,1514.15 L572.3,1513.19 L575.69,1512.23 L579.08,1511.28 L582.47,1510.34 L585.87,1509.41 L589.26,1508.48 L592.65,1507.57 L596.04,1506.66 L599.43,1505.75 L602.83,1504.86 L606.22,1503.97 L609.61,1503.09 L613,1502.22 L616.39,1501.35 L619.78,1500.49 L623.18,1499.64 L626.57,1498.8 L629.96,1497.96 L633.35,1497.13 L636.74,1496.31 L640.14,1495.5 L643.53,1494.69 L646.92,1493.89 L650.31,1493.1 L653.7,1492.32 L657.1,1491.54 L660.49,1490.78 L663.88,1490.01 L667.27,1489.26 L670.66,1488.51 L674.05,1487.77 L677.45,1487.04 L680.84,1486.32 L684.23,1485.6 L687.62,1484.89 L691.01,1484.19 L694.41,1483.49 L697.8,1482.81 L701.19,1482.13 L704.58,1481.45 L707.97,1480.79 L711.36,1480.13 L714.76,1479.48 L718.15,1478.84 L721.54,1478.2 L724.93,1477.57 L728.32,1476.95 L731.72,1476.33 L735.11,1475.73 L738.5,1475.13 L741.89,1474.53 L745.28,1473.95 L748.67,1473.37 L752.07,1472.8 L755.46,1472.24 L758.85,1471.68 L762.24,1471.13 L765.63,1470.59 L769.03,1470.05 L772.42,1469.53 L775.81,1469 L779.2,1468.49 L782.59,1467.98 L785.99,1467.49 L789.38,1466.99 L792.77,1466.51 L796.16,1466.03 L799.55,1465.56 L802.94,1465.1 L806.34,1464.64 L809.73,1464.19 L813.12,1463.75 L816.51,1463.31 L819.9,1462.88 L823.3,1462.46 L826.69,1462.05 L830.08,1461.64 L833.47,1461.24 L836.86,1460.85 L840.25,1460.46 L843.65,1460.09 L847.04,1460.09 L850.13,1460.09 L872,1460.09" fill="none" stroke="#92e87e" stroke-width="12" stroke-linejoin="round" stroke-linecap="butt"/>
<path d="M172.06,1777.11 L174.18,1773.64 L176.31,1769.59 L178.43,1765.34 L180.55,1761.02 L182.68,1756.7 L184.8,1752.4 L186.92,1748.14 L189.05,1743.95 L191.17,1739.82 L193.29,1735.76 L195.42,1731.78 L197.54,1727.87 L199.66,1724.04 L201.78,1720.28 L203.91,1716.6 L206.03,1713.01 L208.15,1709.48 L210.28,1706.04 L212.4,1702.67 L214.52,1699.38 L216.65,1696.16 L218.77,1693.02 L220.89,1689.95 L223.02,1686.96 L225.14,1684.03 L227.26,1681.17 L229.39,1678.37 L231.51,1675.64 L233.63,1672.95 L235.76,1670.32 L237.88,1667.74 L240,1665.21 L242.12,1662.73 L244.25,1660.29 L246.37,1657.89 L248.49,1655.53 L250.62,1653.2 L252.74,1650.92 L254.86,1648.67 L256.99,1646.45 L259.11,1644.27 L261.23,1642.12 L263.36,1640 L265.48,1637.91 L267.6,1635.84 L269.73,1633.81 L271.85,1631.8 L273.97,1629.82 L276.09,1627.86 L278.22,1625.92 L280.34,1624.01 L282.46,1622.12 L284.59,1620.26 L286.71,1618.41 L288.83,1616.59 L290.96,1614.78 L293.08,1613 L295.2,1611.23 L297.33,1609.48 L299.45,1607.75 L301.57,1606.04 L303.7,1604.34 L305.82,1602.66 L307.94,1601 L310.07,1599.35 L312.19,1597.72 L314.31,1596.1 L316.43,1594.5 L318.56,1592.91 L320.68,1591.34 L322.8,1589.78 L324.93,1588.23 L327.05,1586.7 L329.17,1585.18 L331.3,1583.67 L333.42,1582.17 L335.54,1580.69 L337.67,1579.21 L339.79,1577.75 L341.91,1576.3 L344.04,1574.86 L346.16,1573.43 L348.28,1572.02 L350.4,1570.61 L352.53,1569.21 L354.65,1567.82 L356.77,1566.45 L358.9,1565.08 L361.02,1563.72 L363.14,1562.37 L365.27,1561.03 L367.39,1559.69 L369.51,1558.37 L371.64,1557.06 L373.76,1555.75 L375.88,1554.45 L378.01,1553.16 L380.13,1551.88 L382.25,1550.6 L384.38,1549.34 L386.5,1548.08 L388.62,1546.83 L390.74,1545.58 L392.87,1544.35 L394.99,1543.11 L397.11,1541.89 L399.24,1540.67 L401.36,1539.47 L403.48,1538.26 L405.61,1537.07 L407.73,1535.88 L409.85,1534.69 L411.98,1533.51 L414.1,1532.34 L416.22,1531.18 L418.35,1530.02 L420.47,1528.86 L422.59,1527.72 L424.71,1526.57 L426.84,1525.44 L428.96,1524.31 L431.08,1523.18 L433.21,1522.06 L435.33,1520.95 L437.45,1519.84 L439.58,1518.73 L441.7,1517.64 L443.82,1516.55 L445.95,1515.46 L448.07,1514.39 L450.19,1513.32 L452.32,1512.25 L454.44,1511.19 L456.56,1510.14 L458.68,1509.1 L460.81,1508.06 L462.93,1507.03 L465.05,1506 L467.18,1504.99 L469.3,1503.98 L471.42,1502.98 L473.55,1501.98 L475.67,1500.99 L477.79,1500.01 L479.92,1499.04 L482.04,1498.07 L484.16,1497.12 L486.29,1496.17 L488.41,1495.22 L490.53,1494.29 L492.66,1493.36 L494.78,1492.44 L496.9,1491.53 L499.02,1490.63 L501.15,1489.73 L503.27,1488.84 L505.39,1487.97 L507.52,1487.09 L509.64,1486.23 L511.76,1485.38 L513.89,1484.53 L516.01,1483.69 L518.13,1482.86 L520.26,1482.04 L522.38,1481.23 L524.5,1480.42 L526.63,1479.63 L528.75,1478.84 L530.87,1478.06 L532.99,1477.29 L535.12,1476.53 L537.24,1475.77 L539.36,1475.03 L541.49,1474.29 L543.61,1473.57 L545.73,1472.85 L547.86,1472.14 L549.98,1471.44 L552.1,1470.75 L554.23,1470.06 L556.35,1469.39 L558.47,1468.72 L560.6,1468.07 L562.72,1467.42 L564.84,1466.78 L566.97,1466.15 L569.09,1465.53 L571.21,1464.92 L573.33,1464.32 L575.46,1463.73 L577.58,1463.14 L579.7,1462.57 L581.83,1462 L583.95,1461.45 L586.07,1460.9 L588.2,1460.36 L590.32,1459.84 L592.44,1459.6 L594.57,1459.6 L596.63,1459.6 L872,1459.6" fill="none" stroke="#1fd3a3" stroke-width="12.5" stroke-linejoin="round" stroke-linecap="butt"/>
<path d="M172.06,1775.32 L173.66,1770.86 L175.25,1766.45 L176.85,1762.13 L178.44,1757.9 L180.04,1753.75 L181.63,1749.69 L183.23,1745.72 L184.82,1741.82 L186.42,1738.01 L188.01,1734.27 L189.61,1730.6 L191.2,1727.01 L192.8,1723.48 L194.39,1720.03 L195.99,1716.63 L197.58,1713.31 L199.18,1710.04 L200.77,1706.84 L202.36,1703.7 L203.96,1700.61 L205.55,1697.58 L207.15,1694.61 L208.74,1691.7 L210.34,1688.84 L211.93,1686.03 L213.53,1683.28 L215.12,1680.57 L216.72,1677.92 L218.31,1675.32 L219.91,1672.77 L221.5,1670.26 L223.1,1667.81 L224.69,1665.4 L226.29,1663.04 L227.88,1660.72 L229.48,1658.44 L231.07,1656.2 L232.67,1654.01 L234.26,1651.85 L235.86,1649.73 L237.45,1647.65 L239.05,1645.61 L240.64,1643.6 L242.24,1641.63 L243.83,1639.69 L245.43,1637.78 L247.02,1635.91 L248.62,1634.07 L250.21,1632.26 L251.81,1630.49 L253.4,1628.74 L255,1627.03 L256.59,1625.34 L258.19,1623.68 L259.78,1622.05 L261.38,1620.45 L262.97,1618.88 L264.57,1617.33 L266.16,1615.81 L267.76,1614.32 L269.35,1612.85 L270.95,1611.41 L272.54,1610 L274.14,1608.61 L275.73,1607.24 L277.33,1605.9 L278.92,1604.58 L280.52,1603.28 L282.11,1602 L283.71,1600.75 L285.3,1599.51 L286.9,1598.3 L288.49,1597.1 L290.09,1595.92 L291.68,1594.76 L293.28,1593.61 L294.87,1592.48 L296.47,1591.37 L298.06,1590.27 L299.66,1589.19 L301.25,1588.12 L302.85,1587.07 L304.44,1586.03 L306.04,1585 L307.63,1583.99 L309.23,1582.99 L310.82,1582 L312.42,1581.02 L314.01,1580.05 L315.61,1579.1 L317.2,1578.15 L318.8,1577.22 L320.39,1576.3 L321.99,1575.38 L323.58,1574.48 L325.18,1573.58 L326.77,1572.7 L328.37,1571.82 L329.96,1570.95 L331.56,1570.09 L333.15,1569.24 L334.75,1568.4 L336.34,1567.56 L337.94,1566.74 L339.53,1565.92 L341.13,1565.12 L342.72,1564.32 L344.32,1563.53 L345.91,1562.75 L347.5,1561.98 L349.1,1561.21 L350.69,1560.46 L352.29,1559.71 L353.88,1558.98 L355.48,1558.25 L357.07,1557.53 L358.67,1556.82 L360.26,1556.12 L361.86,1555.42 L363.45,1554.74 L365.05,1554.06 L366.64,1553.39 L368.24,1552.73 L369.83,1552.08 L371.43,1551.44 L373.02,1550.81 L374.62,1550.18 L376.21,1549.56 L377.81,1548.95 L379.4,1548.35 L381,1547.76 L382.59,1547.18 L384.19,1546.6 L385.78,1546.03 L387.38,1545.48 L388.97,1544.92 L390.57,1544.38 L392.16,1543.84 L393.76,1543.31 L395.35,1542.79 L396.95,1542.28 L398.54,1541.77 L400.14,1541.27 L401.73,1540.78 L403.33,1540.3 L404.92,1539.82 L406.52,1539.35 L408.11,1538.89 L409.71,1538.43 L411.3,1537.99 L412.9,1537.54 L414.49,1537.11 L416.09,1536.68 L417.68,1536.26 L419.28,1535.85 L420.87,1535.44 L422.47,1535.04 L424.06,1534.64 L425.66,1534.25 L427.25,1533.87 L428.85,1533.5 L430.44,1533.13 L432.04,1532.76 L433.63,1532.41 L435.23,1532.06 L436.82,1531.71 L438.42,1531.38 L440.01,1531.04 L441.61,1530.72 L443.2,1530.4 L444.8,1530.08 L446.39,1529.77 L447.99,1529.47 L449.58,1529.18 L451.18,1528.88 L452.77,1528.6 L454.37,1528.32 L455.96,1528.05 L457.56,1527.78 L459.15,1527.51 L460.75,1527.26 L462.34,1527 L463.94,1526.76 L465.53,1526.52 L467.13,1526.28 L468.72,1526.05 L470.32,1525.82 L471.91,1525.6 L473.51,1525.39 L475.1,1525.18 L476.7,1524.97 L478.29,1524.77 L479.89,1524.58 L481.48,1524.39 L483.08,1524.2 L484.67,1524.03 L486.27,1523.85 L487.86,1523.68 L489.45,1523.63 L491.52,1523.63 L872,1523.63" fill="none" stroke="#1fb3d2" stroke-width="14" stroke-linejoin="round" stroke-linecap="butt"/>
<path d="M172.06,1775.33 L173.37,1771.75 L174.68,1768.07 L175.99,1764.4 L177.3,1760.74 L178.61,1757.13 L179.92,1753.57 L181.23,1750.06 L182.54,1746.61 L183.85,1743.22 L185.16,1739.89 L186.47,1736.61 L187.78,1733.39 L189.09,1730.23 L190.4,1727.13 L191.71,1724.08 L193.02,1721.09 L194.33,1718.16 L195.64,1715.28 L196.95,1712.45 L198.26,1709.67 L199.57,1706.95 L200.88,1704.28 L202.19,1701.66 L203.5,1699.09 L204.81,1696.57 L206.12,1694.1 L207.43,1691.67 L208.74,1689.3 L210.05,1686.97 L211.36,1684.69 L212.68,1682.45 L213.99,1680.26 L215.3,1678.11 L216.61,1676.01 L217.92,1673.95 L219.23,1671.93 L220.54,1669.96 L221.85,1668.03 L223.16,1666.14 L224.47,1664.3 L225.78,1662.49 L227.09,1660.72 L228.4,1658.99 L229.71,1657.29 L231.02,1655.63 L232.33,1654 L233.64,1652.4 L234.95,1650.84 L236.26,1649.31 L237.57,1647.81 L238.88,1646.34 L240.19,1644.9 L241.5,1643.49 L242.81,1642.1 L244.12,1640.74 L245.43,1639.41 L246.74,1638.11 L248.05,1636.83 L249.36,1635.57 L250.67,1634.35 L251.98,1633.14 L253.29,1631.96 L254.6,1630.8 L255.91,1629.66 L257.22,1628.55 L258.53,1627.46 L259.84,1626.39 L261.15,1625.34 L262.46,1624.31 L263.77,1623.31 L265.08,1622.32 L266.39,1621.35 L267.7,1620.41 L269.01,1619.48 L270.32,1618.57 L271.63,1617.68 L272.94,1616.81 L274.25,1615.95 L275.56,1615.11 L276.87,1614.29 L278.18,1613.49 L279.49,1612.7 L280.8,1611.93 L282.11,1611.17 L283.42,1610.42 L284.73,1609.69 L286.04,1608.96 L287.35,1608.26 L288.66,1607.56 L289.97,1606.87 L291.28,1606.19 L292.59,1605.53 L293.9,1604.87 L295.21,1604.22 L296.52,1603.58 L297.83,1602.95 L299.14,1602.32 L300.45,1601.71 L301.76,1601.1 L303.07,1600.49 L304.38,1599.9 L305.69,1599.31 L307,1598.72 L308.31,1598.14 L309.62,1597.56 L310.94,1596.99 L312.25,1596.42 L313.56,1595.86 L314.87,1595.3 L316.18,1594.74 L317.49,1594.19 L318.8,1593.64 L320.11,1593.09 L321.42,1592.55 L322.73,1592 L324.04,1591.46 L325.35,1590.92 L326.66,1590.38 L327.97,1589.84 L329.28,1589.31 L330.59,1588.77 L331.9,1588.24 L333.21,1587.71 L334.52,1587.19 L335.83,1586.67 L337.14,1586.14 L338.45,1585.63 L339.76,1585.11 L341.07,1584.6 L342.38,1584.09 L343.69,1583.59 L345,1583.09 L346.31,1582.59 L347.62,1582.1 L348.93,1581.61 L350.24,1581.13 L351.55,1580.65 L352.86,1580.17 L354.17,1579.7 L355.48,1579.23 L356.79,1578.77 L358.1,1578.32 L359.41,1577.87 L360.72,1577.42 L362.03,1576.98 L363.34,1576.54 L364.65,1576.11 L365.96,1575.68 L367.27,1575.27 L368.58,1574.85 L369.89,1574.44 L371.2,1574.04 L372.51,1573.64 L373.82,1573.25 L375.13,1572.87 L376.44,1572.49 L377.75,1572.12 L379.06,1571.75 L380.37,1571.39 L381.68,1571.04 L382.99,1570.69 L384.3,1570.35 L385.61,1570.02 L386.92,1569.7 L388.23,1569.38 L389.54,1569.07 L390.85,1568.77 L392.16,1568.47 L393.47,1568.18 L394.78,1567.91 L396.09,1567.63 L397.4,1567.37 L398.71,1567.12 L400.02,1566.87 L401.33,1566.63 L402.64,1566.4 L403.95,1566.18 L405.26,1565.97 L406.57,1565.77 L407.88,1565.58 L409.2,1565.39 L410.51,1565.22 L411.82,1565.05 L413.13,1564.89 L414.44,1564.75 L415.75,1564.61 L417.06,1564.48 L418.37,1564.36 L419.68,1564.26 L420.99,1564.16 L422.3,1564.08 L423.61,1564.08 L424.92,1564.08 L426.23,1564.08 L427.54,1564.08 L428.85,1564.08 L430.16,1564.08 L431.47,1564.08 L432.78,1564.08 L435.87,1564.08 L872,1564.08" fill="none" stroke="#2270c6" stroke-width="15" stroke-linejoin="round" stroke-linecap="butt"/>
<path d="M172.06,1775.67 L173.16,1771.58 L174.27,1767.82 L175.37,1764.27 L176.47,1760.89 L177.58,1757.65 L178.68,1754.51 L179.78,1751.48 L180.88,1748.53 L181.99,1745.65 L183.09,1742.85 L184.19,1740.12 L185.3,1737.44 L186.4,1734.82 L187.5,1732.26 L188.61,1729.74 L189.71,1727.27 L190.81,1724.85 L191.91,1722.47 L193.02,1720.14 L194.12,1717.84 L195.22,1715.58 L196.33,1713.36 L197.43,1711.18 L198.53,1709.03 L199.64,1706.91 L200.74,1704.83 L201.84,1702.78 L202.94,1700.76 L204.05,1698.77 L205.15,1696.81 L206.25,1694.88 L207.36,1692.97 L208.46,1691.1 L209.56,1689.25 L210.67,1687.43 L211.77,1685.64 L212.87,1683.87 L213.97,1682.13 L215.08,1680.41 L216.18,1678.72 L217.28,1677.05 L218.39,1675.4 L219.49,1673.78 L220.59,1672.18 L221.7,1670.6 L222.8,1669.05 L223.9,1667.52 L225,1666.01 L226.11,1664.52 L227.21,1663.05 L228.31,1661.6 L229.42,1660.18 L230.52,1658.77 L231.62,1657.38 L232.73,1656.02 L233.83,1654.67 L234.93,1653.34 L236.03,1652.04 L237.14,1650.75 L238.24,1649.48 L239.34,1648.23 L240.45,1646.99 L241.55,1645.78 L242.65,1644.58 L243.76,1643.41 L244.86,1642.25 L245.96,1641.1 L247.06,1639.98 L248.17,1638.87 L249.27,1637.78 L250.37,1636.7 L251.48,1635.65 L252.58,1634.61 L253.68,1633.58 L254.79,1632.58 L255.89,1631.59 L256.99,1630.61 L258.09,1629.65 L259.2,1628.71 L260.3,1627.78 L261.4,1626.87 L262.51,1625.98 L263.61,1625.1 L264.71,1624.23 L265.82,1623.39 L266.92,1622.55 L268.02,1621.73 L269.12,1620.93 L270.23,1620.14 L271.33,1619.37 L272.43,1618.61 L273.54,1617.86 L274.64,1617.13 L275.74,1616.42 L276.85,1615.71 L277.95,1615.02 L279.05,1614.35 L280.15,1613.69 L281.26,1613.04 L282.36,1612.4 L283.46,1611.77 L284.57,1611.16 L285.67,1610.56 L286.77,1609.97 L287.88,1609.39 L288.98,1608.82 L290.08,1608.26 L291.18,1607.71 L292.29,1607.18 L293.39,1606.65 L294.49,1606.13 L295.6,1605.63 L296.7,1605.13 L297.8,1604.64 L298.91,1604.16 L300.01,1603.69 L301.11,1603.23 L302.21,1602.78 L303.32,1602.34 L304.42,1601.9 L305.52,1601.47 L306.63,1601.05 L307.73,1600.64 L308.83,1600.24 L309.94,1599.84 L311.04,1599.45 L312.14,1599.07 L313.24,1598.7 L314.35,1598.33 L315.45,1597.97 L316.55,1597.62 L317.66,1597.27 L318.76,1596.93 L319.86,1596.59 L320.97,1596.27 L322.07,1595.94 L323.17,1595.63 L324.27,1595.32 L325.38,1595.01 L326.48,1594.71 L327.58,1594.42 L328.69,1594.13 L329.79,1593.85 L330.89,1593.58 L332,1593.3 L333.1,1593.04 L334.2,1592.78 L335.3,1592.52 L336.41,1592.27 L337.51,1592.02 L338.61,1591.78 L339.72,1591.54 L340.82,1591.31 L341.92,1591.08 L343.03,1590.86 L344.13,1590.64 L345.23,1590.42 L346.33,1590.21 L347.44,1590 L348.54,1589.8 L349.64,1589.6 L350.75,1589.4 L351.85,1589.21 L352.95,1589.02 L354.06,1588.83 L355.16,1588.65 L356.26,1588.47 L357.36,1588.3 L358.47,1588.12 L359.57,1587.96 L360.67,1587.79 L361.78,1587.63 L362.88,1587.47 L363.98,1587.31 L365.09,1587.16 L366.19,1587.01 L367.29,1586.86 L368.39,1586.72 L369.5,1586.57 L370.6,1586.43 L371.7,1586.3 L372.81,1586.16 L373.91,1586.03 L375.01,1585.9 L376.12,1585.78 L377.22,1585.65 L378.32,1585.53 L379.42,1585.41 L380.53,1585.29 L381.63,1585.18 L382.73,1585.06 L383.84,1584.95 L384.94,1584.84 L386.04,1584.73 L387.15,1584.63 L388.25,1584.53 L389.35,1584.42 L390.45,1584.32 L391.56,1584.23 L393.62,1584.22 L872,1584.22" fill="none" stroke="#1d5fa8" stroke-width="14" stroke-linejoin="round" stroke-linecap="butt"/>
</g>
<rect x="453.7" y="1664.4" width="97.3" height="97.3" fill="#d3d3d3"/>
<path d="M502.02,1678.12 L510.4,1701.13 L534.87,1700.27 L515.57,1715.35 L523.95,1738.36 L503.65,1724.66 L484.36,1739.74 L491.1,1716.2 L470.81,1702.51 L495.28,1701.66Z" fill="#fff"/>
<circle cx="503.2" cy="1710.8" r="38.3" fill="none" stroke="#e8355c" stroke-width="2.4" stroke-dasharray="8.5 4.5"/>
<line x1="478.3" y1="1685.8" x2="530.7" y2="1735.4" stroke="#2aa0e8" stroke-width="2.4"/>
<text x="500.69" y="1704.1" font-size="21.3" font-weight="bold" fill="#1a96f0">D</text>
<text x="742.99" y="1616.9" font-size="34.5" font-weight="bold" fill="#000">200 µm</text>
<text x="743.68" y="1655.5" font-size="34.5" font-weight="bold" fill="#000">400 µm</text>
<text x="742.91" y="1693.8" font-size="34.5" font-weight="bold" fill="#000">600 µm</text>
<text x="743.08" y="1732.6" font-size="34.5" font-weight="bold" fill="#000">800 µm</text>
<text x="742.99" y="1771.2" font-size="34.5" font-weight="bold" fill="#000">900 µm</text>
<path d="M727.5,1596.7 L736.0,1612.2 L719.0,1612.2Z" fill="#92e87e"/>
<rect x="720.5" y="1637.8" width="14" height="13.5" fill="#1fd3a3"/>
<path d="M727.5,1673.7 L735.11,1679.23 L732.2,1688.17 L722.8,1688.17 L719.89,1679.23Z" fill="#1fb3d2"/>
<path d="M727.5,1712.7 L734.43,1716.7 L734.43,1724.7 L727.5,1728.7 L720.57,1724.7 L720.57,1716.7Z" fill="#2270c6"/>
<circle cx="727.5" cy="1759.8" r="7.6" fill="#1d5fa8"/>
<text x="-2.53" y="1466.8" font-size="42" font-weight="bold" fill="#000">(d)</text>
<text x="137.83" y="1795.97" font-size="38" font-weight="bold" fill="#000">0</text>
<text x="136.5" y="1730.47" font-size="38" font-weight="bold" fill="#000">4</text>
<text x="137.45" y="1664.97" font-size="38" font-weight="bold" fill="#000">8</text>
<text x="116.65" y="1599.47" font-size="38" font-weight="bold" fill="#000">12</text>
<text x="116.55" y="1533.97" font-size="38" font-weight="bold" fill="#000">16</text>
<text x="116.74" y="1468.47" font-size="38" font-weight="bold" fill="#000">20</text>
<text x="159.45" y="1828.6" font-size="38" font-weight="bold" fill="#000">0</text>
<text x="240.94" y="1828.6" font-size="38" font-weight="bold" fill="#000">100</text>
<text x="344.51" y="1828.6" font-size="38" font-weight="bold" fill="#000">200</text>
<text x="447.8" y="1828.6" font-size="38" font-weight="bold" fill="#000">300</text>
<text x="550.99" y="1828.6" font-size="38" font-weight="bold" fill="#000">400</text>
<text x="653.76" y="1828.6" font-size="38" font-weight="bold" fill="#000">500</text>
<text x="756.66" y="1828.6" font-size="38" font-weight="bold" fill="#000">600</text>
<text x="463.49" y="1869.8" font-size="38" font-weight="bold" fill="#000">t (ms)</text>
<text transform="translate(98 1686.19) rotate(-90)" font-size="38" font-weight="bold" fill="#000">H (mm)</text></g>
<g id="pe"><text x="903.78" y="30.8" font-size="42" font-weight="bold" fill="#000">(e)</text>
<g filter="url(#b1)">
<path d="M991.1,64.8 L1011.4,64.8 L1009.8,505 L989.4,505Z" fill="url(#tube)"/>
<rect x="988.4" y="475" width="24" height="31" fill="url(#tfade)" opacity="0.5"/>
<path d="M1126.2,66.6 L1149.7,66.6 L1144.5,505 L1123,505Z" fill="url(#tube)"/>
<path d="M1126.2,66.6 L1149.7,66.6 L1149.22,107 L1125.91,107Z" fill="url(#tubed)" opacity="0.12"/>
<rect x="1122" y="475" width="28.7" height="31" fill="url(#tfade)" opacity="0.5"/>
<path d="M1267.4,64.3 L1291.3,64.3 L1290.3,506.3 L1268,506.3Z" fill="url(#tube)"/>
<path d="M1267.4,64.3 L1291.3,64.3 L1291.1,154.5 L1267.52,154.5Z" fill="url(#tubed)" opacity="0.35"/>
<rect x="1266.4" y="476.3" width="25.9" height="31" fill="url(#tfade)" opacity="0.5"/>
<path d="M1419.1,59.5 L1443.8,59.5 L1444.7,502.6 L1417.4,502.6Z" fill="url(#tube)"/>
<path d="M1419.1,59.5 L1443.8,59.5 L1444.04,176 L1418.65,176Z" fill="url(#tubed)" opacity="0.7"/>
<rect x="1416.4" y="472.6" width="29.3" height="31" fill="url(#tfade)" opacity="0.5"/>
<path d="M1565.8,61.4 L1588.8,61.4 L1590,501.3 L1566,501.3Z" fill="url(#tube)"/>
<path d="M1565.8,61.4 L1588.8,61.4 L1589.21,211 L1565.87,211Z" fill="url(#tubed5)" opacity="0.55"/>
<rect x="1564.8" y="471.3" width="26.2" height="31" fill="url(#tfade)" opacity="0.5"/>
<path d="M1708.4,66.9 L1735.7,66.9 L1735.3,505 L1708.4,505Z" fill="url(#tube)"/>
<path d="M1708.4,66.9 L1735.7,66.9 L1735.54,238 L1708.4,238Z" fill="url(#tubed)" opacity="0.75"/>
<rect x="1707.4" y="475" width="29.3" height="31" fill="url(#tfade)" opacity="0.5"/>
<rect x="991.6" y="64.8" width="19.3" height="6" fill="#7d7980"/>
</g>
<path d="M1132.2,113.5 L1144.2,113.5 L1140.7,106 L1135.7,106Z" fill="#807c86"/>
<path d="M1273.7,160.5 L1285.7,160.5 L1282.2,153 L1277.2,153Z" fill="#807c86"/>
<path d="M1425.1,179 L1437.1,179 L1433.6,171.5 L1428.6,171.5Z" fill="#807c86"/>
<path d="M1571.1,216 L1583.1,216 L1579.6,208.5 L1574.6,208.5Z" fill="#807c86"/>
<path d="M1720,242.5 L1732,242.5 L1728.5,235 L1723.5,235Z" fill="#807c86"/>
<path d="M997.6,62 C1017.52,68.52 1098.24,94.77 1138.2,108 C1178.16,121.23 1238.21,146.53 1279.7,155.4 C1321.19,164.27 1388.97,163.19 1431.1,170.6 C1473.23,178.01 1534.91,198.77 1577.1,207.7 C1619.29,216.62 1707.39,229.93 1728.9,233.6" fill="none" stroke="#4477aa" stroke-width="4" stroke-linecap="round"/>
<text transform="translate(1026.7 261.36) rotate(90) scale(1 1.08)" font-size="38.3" font-weight="bold" fill="#000">D=300 µm</text>
<text transform="translate(1163.8 261.36) rotate(90) scale(1 1.08)" font-size="38.3" font-weight="bold" fill="#000">D=500 µm</text>
<text transform="translate(1310.3 261.36) rotate(90) scale(1 1.08)" font-size="38.3" font-weight="bold" fill="#000">D=600 µm</text>
<text transform="translate(1463.4 261.36) rotate(90) scale(1 1.08)" font-size="38.3" font-weight="bold" fill="#000">D=700 µm</text>
<text transform="translate(1609.7 261.36) rotate(90) scale(1 1.08)" font-size="38.3" font-weight="bold" fill="#000">D=800 µm</text>
<text transform="translate(1754.6 261.36) rotate(90) scale(1 1.08)" font-size="38.3" font-weight="bold" fill="#000">D=900 µm</text></g>
<g id="pf">
<text x="908.2" y="579.8" font-size="42" font-weight="bold" fill="#000">(f)</text>
<text x="1028.91" y="622.8" font-size="42" font-weight="bold" fill="#000">(i)</text>
<text x="1283.98" y="622.8" font-size="42" font-weight="bold" fill="#000">(ii)</text>
<text x="1528.1" y="622.8" font-size="42" font-weight="bold" fill="#000">(iii)</text>
<g filter="url(#b1)">
<path d="M998,1072 L998,1086 A55,20 0 0 0 1108,1086 L1108,1072 Z" fill="#3bb0ea"/>
<ellipse cx="1053" cy="1072" rx="55" ry="20" fill="#43b6ec"/>
<path d="M1015.3,860 L1016,1080 A36.75,12 0 0 0 1089.5,1080 L1090.2,860 Z" fill="url(#bluec)"/>
<path d="M1016,1062 A36.75,12 0 0 1 1089.5,1062 L1089.5,1080 A36.75,12 0 0 1 1016,1080 Z" fill="#2f9fe0" opacity="0.75"/>
<path d="M1014,658 Q1014,651 1024,649 Q1052.75,644 1081.5,649 Q1091.5,651 1091.5,658 L1090.2,860 A37.45,12 0 0 1 1015.3,860 Z" fill="url(#redc)"/>
<ellipse cx="1052.75" cy="860" rx="37.45" ry="12" fill="#b4e8f0"/>
<ellipse cx="1052.75" cy="858.7" rx="37.45" ry="11.6" fill="url(#purp)"/>
</g>
<rect x="1274.3" y="845" width="69.7" height="243" fill="#1b8ede"/>
<rect x="1256.5" y="1086" width="105.5" height="20" fill="#1b8ede"/>
<path d="M1274.3,653 L1344,653 L1344,846 Q1309,858 1274.3,846 Z" fill="#9fe0e0"/>
<path d="M1274.3,653 L1344,653 L1344,845 Q1309,857 1274.3,845 Z" fill="#e0161e"/>
<ellipse cx="1571.5" cy="873.6" rx="168" ry="169.8" fill="url(#circ)"/>
<g filter="url(#b1)"><path d="M1444.1,809.6 L1434.64,804.57 L1435.27,803.33 L1430.3,803 L1433.54,806.78 L1434.17,805.53 L1443.86,810.08Z" fill="#ff1e00"/><path d="M1454.28,843.85 L1437.67,839.25 L1438.21,837.08 L1430.3,838.3 L1436.71,843.1 L1437.25,840.93 L1454.07,844.69Z" fill="#ff1e00"/><path d="M1457.57,873.12 L1438.48,872.65 L1438.48,870.16 L1430.3,873.6 L1438.48,877.04 L1438.48,874.55 L1457.57,874.08Z" fill="#ff1e00"/><path d="M1454.07,902.51 L1437.25,906.27 L1436.71,904.1 L1430.3,908.9 L1438.21,910.12 L1437.67,907.95 L1454.28,903.35Z" fill="#ff1e00"/><path d="M1443.86,937.12 L1434.17,941.67 L1433.54,940.42 L1430.3,944.2 L1435.27,943.87 L1434.64,942.63 L1444.1,937.6Z" fill="#ff1e00"/><path d="M1481.22,782.79 L1470.74,771.77 L1472.14,770.37 L1465.6,767.7 L1468.27,774.24 L1469.67,772.84 L1480.69,783.32Z" fill="#ff1e00"/><path d="M1494.02,821.24 L1474.68,807.63 L1476.39,805.08 L1465.6,803 L1471.67,812.16 L1473.37,809.6 L1493.36,822.22Z" fill="#ff1e00"/><path d="M1501.54,849.59 L1476.74,840.62 L1477.82,837.37 L1465.6,838.3 L1474.82,846.38 L1475.9,843.12 L1501.12,850.84Z" fill="#ff1e00"/><path d="M1503.88,872.93 L1477.08,872.26 L1477.08,868.78 L1465.6,873.6 L1477.08,878.42 L1477.08,874.94 L1503.88,874.27Z" fill="#ff1e00"/><path d="M1501.12,896.36 L1475.9,904.08 L1474.82,900.82 L1465.6,908.9 L1477.82,909.83 L1476.74,906.58 L1501.54,897.61Z" fill="#ff1e00"/><path d="M1493.36,924.98 L1473.37,937.6 L1471.67,935.04 L1465.6,944.2 L1476.39,942.12 L1474.68,939.57 L1494.02,925.96Z" fill="#ff1e00"/><path d="M1480.69,963.88 L1469.67,974.36 L1468.27,972.96 L1465.6,979.5 L1472.14,976.83 L1470.74,975.43 L1481.22,964.41Z" fill="#ff1e00"/><path d="M1507.98,745.96 L1503.43,736.27 L1504.68,735.64 L1500.9,732.4 L1501.23,737.37 L1502.47,736.74 L1507.5,746.2Z" fill="#ff1e00"/><path d="M1520.12,795.46 L1507.5,775.47 L1510.06,773.77 L1500.9,767.7 L1502.98,778.49 L1505.53,776.78 L1519.14,796.12Z" fill="#ff1e00"/><path d="M1528.59,829.74 L1510.02,810.21 L1512.49,807.74 L1500.9,803 L1505.64,814.59 L1508.11,812.12 L1527.64,830.69Z" fill="#ff1e00"/><path d="M1533.49,853.89 L1511.16,842.02 L1512.63,839.08 L1500.9,838.3 L1508.56,847.22 L1510.03,844.28 L1532.93,855.02Z" fill="#ff1e00"/><path d="M1534.91,873 L1511.1,872.41 L1511.1,869.31 L1500.9,873.6 L1511.1,877.89 L1511.1,874.79 L1534.91,874.2Z" fill="#ff1e00"/><path d="M1532.93,892.18 L1510.03,902.92 L1508.56,899.98 L1500.9,908.9 L1512.63,908.12 L1511.16,905.18 L1533.49,893.31Z" fill="#ff1e00"/><path d="M1527.64,916.51 L1508.11,935.08 L1505.64,932.61 L1500.9,944.2 L1512.49,939.46 L1510.02,936.99 L1528.59,917.46Z" fill="#ff1e00"/><path d="M1519.14,951.08 L1505.53,970.42 L1502.98,968.71 L1500.9,979.5 L1510.06,973.43 L1507.5,971.73 L1520.12,951.74Z" fill="#ff1e00"/><path d="M1507.5,1001 L1502.47,1010.46 L1501.23,1009.83 L1500.9,1014.8 L1504.68,1011.56 L1503.43,1010.93 L1507.98,1001.24Z" fill="#ff1e00"/><path d="M1542.59,756.17 L1538.83,739.35 L1541,738.81 L1536.2,732.4 L1534.98,740.31 L1537.15,739.77 L1541.75,756.38Z" fill="#ff1e00"/><path d="M1548.74,803.22 L1541.02,778 L1544.28,776.92 L1536.2,767.7 L1535.27,779.92 L1538.52,778.84 L1547.49,803.64Z" fill="#ff1e00"/><path d="M1552.92,835.03 L1542.18,812.13 L1545.12,810.66 L1536.2,803 L1536.98,814.73 L1539.92,813.26 L1551.79,835.59Z" fill="#ff1e00"/><path d="M1555.23,856.67 L1542.47,843.26 L1544.17,841.55 L1536.2,838.3 L1539.45,846.27 L1541.16,844.57 L1554.57,857.33Z" fill="#ff1e00"/><path d="M1555.75,873.26 L1542.07,872.92 L1542.07,871.14 L1536.2,873.6 L1542.07,876.06 L1542.07,874.28 L1555.75,873.94Z" fill="#ff1e00"/><path d="M1554.57,889.87 L1541.16,902.63 L1539.45,900.93 L1536.2,908.9 L1544.17,905.65 L1542.47,903.94 L1555.23,890.53Z" fill="#ff1e00"/><path d="M1551.79,911.61 L1539.92,933.94 L1536.98,932.47 L1536.2,944.2 L1545.12,936.54 L1542.18,935.07 L1552.92,912.17Z" fill="#ff1e00"/><path d="M1547.49,943.56 L1538.52,968.36 L1535.27,967.28 L1536.2,979.5 L1544.28,970.28 L1541.02,969.2 L1548.74,943.98Z" fill="#ff1e00"/><path d="M1541.75,990.82 L1537.15,1007.43 L1534.98,1006.89 L1536.2,1014.8 L1541,1008.39 L1538.83,1007.85 L1542.59,991.03Z" fill="#ff1e00"/><path d="M1571.98,759.67 L1572.45,740.58 L1574.94,740.58 L1571.5,732.4 L1568.06,740.58 L1570.55,740.58 L1571.02,759.67Z" fill="#ff1e00"/><path d="M1572.17,805.98 L1572.84,779.18 L1576.32,779.18 L1571.5,767.7 L1566.68,779.18 L1570.16,779.18 L1570.83,805.98Z" fill="#ff1e00"/><path d="M1572.1,837.01 L1572.69,813.2 L1575.79,813.2 L1571.5,803 L1567.21,813.2 L1570.31,813.2 L1570.9,837.01Z" fill="#ff1e00"/><path d="M1571.84,857.85 L1572.18,844.17 L1573.96,844.17 L1571.5,838.3 L1569.04,844.17 L1570.82,844.17 L1571.16,857.85Z" fill="#ff1e00"/><path d="M1571.16,889.35 L1570.82,903.03 L1569.04,903.03 L1571.5,908.9 L1573.96,903.03 L1572.18,903.03 L1571.84,889.35Z" fill="#ff1e00"/><path d="M1570.9,910.19 L1570.31,934 L1567.21,934 L1571.5,944.2 L1575.79,934 L1572.69,934 L1572.1,910.19Z" fill="#ff1e00"/><path d="M1570.83,941.22 L1570.16,968.02 L1566.68,968.02 L1571.5,979.5 L1576.32,968.02 L1572.84,968.02 L1572.17,941.22Z" fill="#ff1e00"/><path d="M1571.02,987.53 L1570.55,1006.62 L1568.06,1006.62 L1571.5,1014.8 L1574.94,1006.62 L1572.45,1006.62 L1571.98,987.53Z" fill="#ff1e00"/><path d="M1601.25,756.38 L1605.85,739.77 L1608.02,740.31 L1606.8,732.4 L1602,738.81 L1604.17,739.35 L1600.41,756.17Z" fill="#ff1e00"/><path d="M1595.51,803.64 L1604.48,778.84 L1607.73,779.92 L1606.8,767.7 L1598.72,776.92 L1601.98,778 L1594.26,803.22Z" fill="#ff1e00"/><path d="M1591.21,835.59 L1603.08,813.26 L1606.02,814.73 L1606.8,803 L1597.88,810.66 L1600.82,812.13 L1590.08,835.03Z" fill="#ff1e00"/><path d="M1588.43,857.33 L1601.84,844.57 L1603.55,846.27 L1606.8,838.3 L1598.83,841.55 L1600.53,843.26 L1587.77,856.67Z" fill="#ff1e00"/><path d="M1587.25,873.94 L1600.93,874.28 L1600.93,876.06 L1606.8,873.6 L1600.93,871.14 L1600.93,872.92 L1587.25,873.26Z" fill="#ff1e00"/><path d="M1587.77,890.53 L1600.53,903.94 L1598.83,905.65 L1606.8,908.9 L1603.55,900.93 L1601.84,902.63 L1588.43,889.87Z" fill="#ff1e00"/><path d="M1590.08,912.17 L1600.82,935.07 L1597.88,936.54 L1606.8,944.2 L1606.02,932.47 L1603.08,933.94 L1591.21,911.61Z" fill="#ff1e00"/><path d="M1594.26,943.98 L1601.98,969.2 L1598.72,970.28 L1606.8,979.5 L1607.73,967.28 L1604.48,968.36 L1595.51,943.56Z" fill="#ff1e00"/><path d="M1600.41,991.03 L1604.17,1007.85 L1602,1008.39 L1606.8,1014.8 L1608.02,1006.89 L1605.85,1007.43 L1601.25,990.82Z" fill="#ff1e00"/><path d="M1635.5,746.2 L1640.53,736.74 L1641.77,737.37 L1642.1,732.4 L1638.32,735.64 L1639.57,736.27 L1635.02,745.96Z" fill="#ff1e00"/><path d="M1623.86,796.12 L1637.47,776.78 L1640.02,778.49 L1642.1,767.7 L1632.94,773.77 L1635.5,775.47 L1622.88,795.46Z" fill="#ff1e00"/><path d="M1615.36,830.69 L1634.89,812.12 L1637.36,814.59 L1642.1,803 L1630.51,807.74 L1632.98,810.21 L1614.41,829.74Z" fill="#ff1e00"/><path d="M1610.07,855.02 L1632.97,844.28 L1634.44,847.22 L1642.1,838.3 L1630.37,839.08 L1631.84,842.02 L1609.51,853.89Z" fill="#ff1e00"/><path d="M1608.09,874.2 L1631.9,874.79 L1631.9,877.89 L1642.1,873.6 L1631.9,869.31 L1631.9,872.41 L1608.09,873Z" fill="#ff1e00"/><path d="M1609.51,893.31 L1631.84,905.18 L1630.37,908.12 L1642.1,908.9 L1634.44,899.98 L1632.97,902.92 L1610.07,892.18Z" fill="#ff1e00"/><path d="M1614.41,917.46 L1632.98,936.99 L1630.51,939.46 L1642.1,944.2 L1637.36,932.61 L1634.89,935.08 L1615.36,916.51Z" fill="#ff1e00"/><path d="M1622.88,951.74 L1635.5,971.73 L1632.94,973.43 L1642.1,979.5 L1640.02,968.71 L1637.47,970.42 L1623.86,951.08Z" fill="#ff1e00"/><path d="M1635.02,1001.24 L1639.57,1010.93 L1638.32,1011.56 L1642.1,1014.8 L1641.77,1009.83 L1640.53,1010.46 L1635.5,1001Z" fill="#ff1e00"/><path d="M1662.31,783.32 L1673.33,772.84 L1674.73,774.24 L1677.4,767.7 L1670.86,770.37 L1672.26,771.77 L1661.78,782.79Z" fill="#ff1e00"/><path d="M1649.64,822.22 L1669.63,809.6 L1671.33,812.16 L1677.4,803 L1666.61,805.08 L1668.32,807.63 L1648.98,821.24Z" fill="#ff1e00"/><path d="M1641.88,850.84 L1667.1,843.12 L1668.18,846.38 L1677.4,838.3 L1665.18,837.37 L1666.26,840.62 L1641.46,849.59Z" fill="#ff1e00"/><path d="M1639.12,874.27 L1665.92,874.94 L1665.92,878.42 L1677.4,873.6 L1665.92,868.78 L1665.92,872.26 L1639.12,872.93Z" fill="#ff1e00"/><path d="M1641.46,897.61 L1666.26,906.58 L1665.18,909.83 L1677.4,908.9 L1668.18,900.82 L1667.1,904.08 L1641.88,896.36Z" fill="#ff1e00"/><path d="M1648.98,925.96 L1668.32,939.57 L1666.61,942.12 L1677.4,944.2 L1671.33,935.04 L1669.63,937.6 L1649.64,924.98Z" fill="#ff1e00"/><path d="M1661.78,964.41 L1672.26,975.43 L1670.86,976.83 L1677.4,979.5 L1674.73,972.96 L1673.33,974.36 L1662.31,963.88Z" fill="#ff1e00"/><path d="M1699.14,810.08 L1708.83,805.53 L1709.46,806.78 L1712.7,803 L1707.73,803.33 L1708.36,804.57 L1698.9,809.6Z" fill="#ff1e00"/><path d="M1688.93,844.69 L1705.75,840.93 L1706.29,843.1 L1712.7,838.3 L1704.79,837.08 L1705.33,839.25 L1688.72,843.85Z" fill="#ff1e00"/><path d="M1685.43,874.08 L1704.52,874.55 L1704.52,877.04 L1712.7,873.6 L1704.52,870.16 L1704.52,872.65 L1685.43,873.12Z" fill="#ff1e00"/><path d="M1688.72,903.35 L1705.33,907.95 L1704.79,910.12 L1712.7,908.9 L1706.29,904.1 L1705.75,906.27 L1688.93,902.51Z" fill="#ff1e00"/><path d="M1698.9,937.6 L1708.36,942.63 L1707.73,943.87 L1712.7,944.2 L1709.46,940.42 L1708.83,941.67 L1699.14,937.12Z" fill="#ff1e00"/></g>
</g><g id="pg">
<text x="902.32" y="1198.9" font-size="42" font-weight="bold" fill="#000">(g)</text>
<text x="1028.91" y="1249.8" font-size="42" font-weight="bold" fill="#000">(i)</text>
<text x="1283.98" y="1249.8" font-size="42" font-weight="bold" fill="#000">(ii)</text>
<text x="1514.05" y="1249.8" font-size="42" font-weight="bold" fill="#000">(iii)</text>
<g filter="url(#b2)">
<path d="M996.2,1766 L996.2,1786 A57.6,19.5 0 0 0 1111.4,1786 L1111.4,1766 Z" fill="#52c8f2"/>
<ellipse cx="1053.8" cy="1766" rx="57.6" ry="19.5" fill="#86d8f4"/>
<rect x="1014.2" y="1360" width="14.1" height="406" fill="#44b8e8"/>
<rect x="1027.8" y="1360" width="11.1" height="406" fill="#2a9adc"/>
<rect x="1038.4" y="1360" width="15.1" height="406" fill="#42b6e8"/>
<rect x="1053" y="1360" width="11.8" height="406" fill="#58acd2"/>
<rect x="1064.3" y="1360" width="11.1" height="406" fill="#2a9adc"/>
<rect x="1074.9" y="1360" width="18.2" height="406" fill="#3eb6ec"/>
<path d="M1014.2,1766 L1038.4,1766 L1053.8,1777.6 L1066,1766 L1092.6,1766 L1092.6,1760 L1014.2,1760Z" fill="#44b4e6"/>
<path d="M1014.2,1752 Q1053,1735 1092.6,1752 L1092.6,1766 L1066,1766 L1053.8,1777.6 L1038.4,1766 L1014.2,1766Z" fill="#2494dc" opacity="0.55"/>
<path d="M1092.8,1349 L1092.8,1350 C1092.5,1385 1088,1410 1082,1428 C1077,1441 1070,1446.5 1064.4,1446.5 C1059,1446.5 1055.5,1440 1053.8,1433 C1052,1440 1048.5,1446.5 1043.3,1446.5 C1037.5,1446.5 1030.5,1441 1025.5,1428 C1019.5,1410 1015,1385 1014.4,1350 " fill="none" stroke="#7ef0e0" stroke-width="3.2" stroke-linejoin="round"/>
<path d="M1092.8,1349 L1092.8,1350 C1092.5,1385 1088,1410 1082,1428 C1077,1441 1070,1446.5 1064.4,1446.5 C1059,1446.5 1055.5,1440 1053.8,1433 C1052,1440 1048.5,1446.5 1043.3,1446.5 C1037.5,1446.5 1030.5,1441 1025.5,1428 C1019.5,1410 1015,1385 1014.4,1350 " fill="none" stroke="#f4dc60" stroke-width="1.3" stroke-linejoin="round"/>
<path d="M1014,1290.5 Q1014,1288.5 1017,1288.3 L1028,1288 L1028,1279 L1048,1279 L1053,1290 L1058,1279 L1077.3,1279 L1077.3,1288 L1090,1288.3 Q1093.1,1288.5 1093.1,1290.5 L1092.8,1350 C1092.5,1385 1088,1410 1082,1428 C1077,1441 1070,1446.5 1064.4,1446.5 C1059,1446.5 1055.5,1440 1053.8,1433 C1052,1440 1048.5,1446.5 1043.3,1446.5 C1037.5,1446.5 1030.5,1441 1025.5,1428 C1019.5,1410 1015,1385 1014.4,1350 Z" fill="#e2506a"/>
<path d="M1031,1288 L1041,1288 L1041,1400 Q1041,1432 1044,1446 Q1037,1444 1033,1432 L1031,1400Z" fill="#d83a3c" opacity="0.75"/>
<path d="M1068,1288 L1080,1288 L1080,1400 L1077,1432 Q1072,1444 1064,1446 Q1068,1432 1068,1400Z" fill="#d83a3c" opacity="0.75"/>
<path d="M1053,1292 L1060,1286 L1061,1400 Q1060,1428 1055,1437 Q1053,1425 1053,1400Z" fill="#c87078" opacity="0.8"/>
<path d="M1028,1277.6 L1048,1279 L1053,1290 L1058,1279 L1077.3,1277.6 L1077.3,1290 L1028,1290Z" fill="#e06474" opacity="0.9"/>
</g>
<rect x="1291.5" y="1300" width="46.5" height="477" fill="#1b95e0"/>
<rect x="1253.7" y="1776" width="100" height="21" fill="#1b95e0"/>
<path d="M1291.5,1280 L1337.8,1280 L1337.8,1335 Q1336,1385 1327,1412 Q1318,1436 1304,1436 Q1296,1436 1291.5,1433 Z" fill="none" stroke="#b8f0c8" stroke-width="2.2"/>
<path d="M1291.5,1280 L1337.8,1280 L1337.8,1335 Q1336,1385 1327,1412 Q1318,1436 1304,1436 Q1296,1436 1291.5,1433 Z" fill="#d6222c"/>
<rect x="1291.5" y="1279.5" width="46.3" height="3" fill="#d6222c"/>
<clipPath id="starclip"><path d="M1563.5,1336.7 L1602.34,1456.24 L1728.03,1456.24 L1626.35,1530.12 L1665.19,1649.66 L1563.5,1575.78 L1461.81,1649.66 L1500.65,1530.12 L1398.97,1456.24 L1524.66,1456.24Z"/></clipPath>
<g clip-path="url(#starclip)">
<path d="M1563.5,1336.7 L1602.34,1456.24 L1728.03,1456.24 L1626.35,1530.12 L1665.19,1649.66 L1563.5,1575.78 L1461.81,1649.66 L1500.65,1530.12 L1398.97,1456.24 L1524.66,1456.24Z" fill="#000090"/>
<g filter="url(#b2)">
<path d="M1654.0,1639.6 1646.5,1638.8 1634.5,1634.5 1619.5,1627.8 1564.0,1599.7 1549.1,1606.2 1513.0,1625.1 1492.0,1634.8 1483.0,1638.2 1477.0,1639.6 1472.5,1639.5 1469.5,1638.0 1467.4,1634.7 1466.5,1630.5 1466.6,1615.2 1469.6,1591.2 1477.8,1541.7 1477.6,1537.2 1471.0,1529.3 1465.0,1524.2 1431.9,1490.7 1417.3,1474.2 1412.2,1465.2 1412.1,1460.7 1413.9,1457.7 1418.6,1454.7 1424.5,1452.5 1445.5,1447.6 1510.0,1437.3 1517.5,1424.7 1537.8,1384.2 1546.0,1369.7 1553.5,1357.8 1558.0,1353.0 1561.0,1351.2 1564.0,1350.7 1568.5,1352.7 1573.0,1357.5 1577.5,1363.8 1585.2,1376.7 1613.5,1432.8 1616.5,1437.3 1670.5,1445.6 1694.5,1450.2 1708.3,1454.7 1712.9,1457.7 1714.8,1460.7 1714.9,1463.7 1713.3,1468.2 1709.6,1474.2 1703.6,1481.7 1679.2,1507.2 1672.0,1513.6 1649.0,1537.2 1651.3,1555.2 1658.2,1597.2 1660.7,1621.2 1660.7,1628.7 1659.6,1634.7 1657.0,1638.4 1654.0,1639.6Z" fill="#00009f"/>
<path d="M1648.0,1628.7 1645.0,1629.7 1640.5,1629.8 1627.0,1626.5 1609.0,1619.2 1568.9,1600.2 1564.0,1598.7 1551.4,1603.2 1511.5,1622.1 1492.0,1628.9 1484.5,1629.9 1480.0,1629.2 1475.5,1625.8 1473.3,1621.2 1472.0,1612.2 1472.2,1600.2 1473.5,1585.2 1478.5,1547.8 1478.7,1537.2 1474.0,1530.3 1443.3,1498.2 1432.3,1484.7 1425.1,1472.7 1424.0,1468.2 1424.7,1463.7 1426.8,1460.7 1430.7,1457.7 1444.0,1452.3 1468.0,1446.5 1498.3,1441.2 1510.3,1438.2 1512.1,1436.7 1516.1,1430.7 1531.6,1402.2 1544.9,1379.7 1553.5,1368.9 1558.0,1365.3 1561.0,1363.9 1565.5,1363.8 1570.0,1365.9 1574.5,1369.9 1579.0,1375.3 1593.0,1397.7 1612.4,1433.7 1616.2,1438.2 1628.3,1441.2 1666.0,1448.0 1684.0,1452.5 1691.5,1455.2 1697.5,1458.3 1701.5,1462.2 1702.8,1465.2 1702.8,1469.7 1701.4,1474.2 1695.8,1483.2 1682.3,1499.7 1657.0,1526.5 1647.9,1537.2 1649.4,1555.2 1653.2,1582.2 1655.1,1607.7 1654.5,1616.7 1653.1,1622.7 1651.0,1626.4 1648.0,1628.7Z" fill="#0000af"/>
<path d="M1637.5,1624.3 1628.5,1623.2 1618.0,1620.1 1604.5,1614.8 1571.8,1600.2 1564.0,1597.9 1555.3,1600.2 1523.5,1614.4 1502.5,1622.2 1495.0,1623.9 1489.0,1624.3 1484.5,1623.4 1481.5,1621.8 1478.5,1618.2 1477.0,1614.6 1475.3,1601.7 1475.9,1583.7 1480.1,1543.2 1479.7,1537.2 1477.4,1532.7 1474.0,1528.4 1441.7,1492.2 1434.7,1481.7 1431.5,1474.2 1431.1,1468.2 1433.0,1463.7 1438.0,1459.2 1443.7,1456.2 1460.5,1450.7 1499.5,1442.2 1508.5,1439.9 1511.8,1438.2 1517.5,1430.7 1533.1,1403.7 1544.5,1385.8 1553.5,1375.5 1558.0,1372.3 1561.0,1371.2 1565.5,1371.1 1570.0,1372.9 1574.5,1376.3 1579.0,1381.2 1589.5,1396.3 1610.2,1432.2 1615.0,1438.4 1618.0,1439.9 1627.0,1442.2 1658.5,1448.7 1678.0,1454.1 1690.0,1459.8 1694.1,1463.7 1695.6,1466.7 1696.1,1471.2 1695.1,1475.7 1689.4,1486.2 1679.2,1499.7 1654.0,1527.9 1647.1,1537.2 1647.1,1546.2 1651.5,1589.7 1651.3,1607.7 1649.7,1615.2 1647.4,1619.7 1643.5,1623.0 1637.5,1624.3Z" fill="#0000c6"/>
<path d="M1636.0,1619.7 1627.0,1619.5 1615.0,1616.5 1570.9,1598.7 1564.0,1597.1 1559.5,1597.8 1552.2,1600.2 1525.0,1611.7 1507.0,1618.0 1495.0,1620.0 1490.5,1619.6 1486.0,1618.0 1482.9,1615.2 1480.3,1610.7 1478.0,1598.7 1478.0,1582.2 1481.1,1543.2 1480.0,1535.7 1475.5,1528.5 1445.9,1493.7 1440.1,1484.7 1437.0,1477.2 1436.3,1471.2 1437.6,1466.7 1441.3,1462.2 1448.4,1457.7 1457.5,1454.0 1468.0,1450.8 1507.0,1441.3 1513.0,1438.2 1518.8,1430.7 1534.3,1405.2 1544.5,1390.3 1552.0,1382.0 1559.5,1377.2 1564.0,1376.6 1568.5,1377.6 1573.0,1380.3 1579.0,1386.0 1589.5,1400.1 1609.9,1433.7 1615.0,1439.3 1624.0,1442.6 1658.5,1450.7 1673.5,1455.4 1684.0,1460.7 1687.4,1463.7 1690.1,1468.2 1690.8,1472.7 1690.0,1477.2 1685.0,1487.7 1675.3,1501.2 1651.0,1529.7 1646.5,1536.8 1646.1,1546.2 1649.1,1585.2 1648.7,1601.7 1647.2,1609.2 1645.0,1614.0 1640.5,1618.2 1636.0,1619.7Z" fill="#0000de"/>
<path d="M1636.0,1615.3 1628.5,1616.4 1616.5,1614.5 1603.0,1610.2 1573.0,1598.4 1564.0,1596.3 1553.2,1598.7 1516.0,1613.0 1501.0,1616.3 1495.0,1616.3 1489.0,1614.4 1485.0,1610.7 1482.1,1604.7 1480.5,1597.2 1479.9,1586.7 1482.0,1546.2 1481.3,1537.2 1477.0,1528.9 1455.4,1502.7 1445.8,1489.2 1441.2,1478.7 1440.6,1474.2 1441.3,1469.7 1444.0,1465.2 1447.2,1462.2 1457.5,1456.5 1472.5,1451.4 1505.5,1442.8 1512.4,1439.7 1519.1,1432.2 1535.5,1406.5 1544.5,1394.1 1552.0,1386.2 1559.5,1381.9 1564.0,1381.3 1568.5,1382.2 1573.0,1384.7 1579.0,1390.1 1589.5,1403.5 1608.8,1433.7 1614.2,1439.7 1622.5,1443.2 1655.3,1451.7 1670.5,1456.9 1676.5,1459.9 1681.0,1463.1 1684.2,1466.7 1685.7,1469.7 1686.4,1474.2 1685.8,1478.7 1683.5,1484.7 1680.2,1490.7 1672.9,1501.2 1651.0,1528.1 1646.1,1535.7 1645.0,1544.7 1647.1,1580.7 1646.5,1597.2 1645.0,1604.4 1643.0,1609.2 1640.5,1612.4 1636.0,1615.3Z" fill="#0000f7"/>
<path d="M1633.0,1612.4 1624.0,1613.4 1613.5,1611.6 1601.5,1608.0 1572.3,1597.2 1564.0,1595.5 1553.5,1597.6 1525.0,1608.2 1510.0,1612.4 1504.0,1613.3 1498.0,1613.3 1493.5,1612.2 1490.5,1610.6 1487.4,1607.7 1484.8,1603.2 1482.3,1592.7 1481.7,1577.7 1483.0,1544.7 1481.7,1535.7 1477.0,1527.3 1453.1,1496.7 1448.5,1489.2 1445.3,1481.7 1444.3,1475.7 1445.6,1469.7 1448.7,1465.2 1454.6,1460.7 1467.8,1454.7 1502.5,1444.8 1510.0,1442.0 1513.6,1439.7 1520.2,1432.2 1535.5,1409.2 1544.5,1397.4 1552.0,1389.9 1559.5,1385.8 1564.0,1385.2 1568.5,1386.1 1573.0,1388.4 1579.0,1393.5 1589.5,1406.4 1608.7,1435.2 1613.5,1440.1 1622.5,1444.2 1654.0,1453.0 1666.7,1457.7 1676.7,1463.7 1679.6,1466.7 1682.0,1471.2 1682.7,1475.7 1682.1,1480.2 1677.7,1490.7 1670.8,1501.2 1649.5,1528.5 1645.3,1535.7 1644.1,1544.7 1645.4,1577.7 1644.5,1594.2 1642.7,1601.7 1640.5,1606.4 1637.5,1609.8 1633.0,1612.4Z" fill="#0612fa"/>
<path d="M1630.0,1609.6 1622.5,1610.5 1612.0,1609.1 1601.3,1606.2 1573.0,1596.4 1564.0,1594.7 1553.5,1596.5 1526.5,1606.0 1513.0,1609.5 1501.0,1610.4 1496.5,1609.4 1492.9,1607.7 1489.7,1604.7 1487.5,1601.3 1485.4,1595.7 1484.2,1589.7 1483.3,1576.2 1484.0,1544.7 1482.6,1535.7 1477.8,1526.7 1456.4,1498.2 1451.9,1490.7 1448.8,1483.2 1447.9,1477.2 1448.5,1472.7 1450.7,1468.2 1454.5,1464.2 1459.7,1460.7 1469.3,1456.2 1504.0,1445.4 1513.0,1441.2 1520.4,1433.7 1537.0,1409.9 1544.5,1400.6 1552.0,1393.5 1559.5,1389.6 1564.0,1389.0 1568.5,1389.9 1573.0,1392.1 1579.0,1396.9 1588.0,1407.3 1607.6,1435.2 1613.5,1441.1 1622.5,1445.3 1649.1,1453.2 1664.5,1459.2 1673.6,1465.2 1676.5,1468.5 1678.5,1472.7 1679.1,1477.2 1678.5,1481.7 1674.3,1492.2 1667.6,1502.7 1648.5,1528.2 1644.4,1535.7 1643.1,1544.7 1643.6,1577.7 1642.3,1592.7 1640.5,1599.0 1637.5,1604.5 1634.5,1607.4 1630.0,1609.6Z" fill="#0a2ef6"/>
<path d="M1628.5,1606.3 1621.0,1607.6 1610.5,1606.6 1600.0,1604.0 1574.5,1595.7 1564.0,1593.9 1552.6,1595.7 1520.5,1605.8 1511.5,1607.4 1504.0,1607.5 1498.0,1606.1 1493.5,1603.3 1490.5,1599.7 1487.9,1594.2 1486.4,1588.2 1485.3,1579.2 1485.0,1546.2 1483.9,1537.2 1480.0,1528.2 1462.6,1504.2 1455.4,1492.2 1451.7,1481.7 1451.5,1477.2 1452.5,1472.7 1454.1,1469.7 1457.5,1465.8 1466.5,1459.8 1477.0,1455.3 1506.1,1445.7 1514.5,1441.2 1521.7,1433.7 1537.0,1412.8 1544.5,1403.8 1552.0,1397.1 1558.0,1393.8 1562.5,1392.9 1567.0,1393.2 1571.5,1394.9 1577.5,1399.0 1588.0,1410.2 1607.5,1436.7 1613.5,1442.2 1620.6,1445.7 1649.5,1455.2 1660.0,1459.6 1669.0,1465.3 1672.0,1468.4 1674.5,1472.7 1675.5,1477.2 1675.2,1481.7 1671.7,1492.2 1665.4,1502.7 1648.0,1527.1 1643.5,1535.7 1642.1,1544.7 1641.9,1576.2 1640.3,1589.7 1638.5,1595.7 1636.0,1600.4 1633.0,1603.7 1628.5,1606.3Z" fill="#0c4af4"/>
<path d="M1622.5,1604.9 1616.5,1605.3 1607.5,1604.2 1572.4,1594.2 1564.0,1593.1 1554.8,1594.2 1526.5,1602.6 1514.5,1605.0 1504.0,1604.9 1499.5,1603.5 1496.5,1601.8 1491.3,1595.7 1487.8,1585.2 1486.4,1571.7 1486.0,1546.2 1484.3,1535.7 1480.0,1526.6 1460.7,1498.2 1455.3,1486.2 1454.4,1480.2 1454.8,1475.7 1456.6,1471.2 1460.5,1466.5 1466.3,1462.2 1474.0,1458.2 1504.7,1447.2 1513.7,1442.7 1521.7,1435.2 1537.7,1414.2 1544.5,1406.5 1552.0,1400.0 1558.0,1396.8 1564.0,1395.9 1568.5,1396.7 1573.0,1398.7 1577.5,1401.8 1586.8,1411.2 1606.4,1436.7 1612.9,1442.7 1621.9,1447.2 1645.0,1455.1 1658.5,1461.0 1666.7,1466.7 1669.4,1469.7 1671.7,1474.2 1672.6,1478.7 1672.3,1483.2 1668.7,1493.7 1662.6,1504.2 1646.5,1527.8 1642.3,1537.2 1641.0,1547.7 1640.2,1577.7 1638.8,1586.7 1637.0,1592.7 1634.8,1597.2 1631.5,1601.0 1627.0,1603.7 1622.5,1604.9Z" fill="#0c61f3"/>
<path d="M1621.0,1603.3 1613.5,1603.6 1604.5,1602.4 1575.2,1594.2 1564.0,1592.5 1552.0,1594.2 1529.5,1600.8 1516.0,1603.4 1505.5,1603.2 1501.0,1601.9 1498.0,1600.2 1492.6,1594.2 1490.1,1588.2 1488.7,1582.2 1487.3,1568.7 1486.3,1543.2 1484.5,1534.3 1480.0,1525.3 1462.9,1499.7 1458.0,1489.2 1456.5,1483.2 1456.7,1477.2 1459.1,1471.2 1462.9,1466.7 1468.0,1462.9 1475.5,1458.9 1506.5,1447.2 1514.5,1442.9 1523.5,1434.1 1537.9,1415.7 1544.5,1408.3 1552.0,1402.0 1559.5,1398.5 1564.0,1398.0 1568.5,1398.8 1574.5,1401.6 1579.0,1405.0 1589.1,1415.7 1604.5,1435.5 1612.0,1442.8 1620.1,1447.2 1643.5,1455.6 1657.0,1461.7 1665.6,1468.2 1667.9,1471.2 1670.0,1475.7 1670.6,1480.2 1670.2,1484.7 1666.5,1495.2 1660.4,1505.7 1646.5,1526.5 1642.0,1535.9 1640.5,1544.7 1639.3,1574.7 1638.0,1583.7 1636.4,1589.7 1633.4,1595.7 1630.0,1599.5 1625.5,1602.1 1621.0,1603.3Z" fill="#0c77f2"/>
<path d="M1621.0,1602.0 1613.5,1602.5 1604.5,1601.4 1576.0,1593.9 1564.0,1592.0 1552.0,1593.7 1531.0,1599.5 1517.5,1602.2 1507.0,1602.2 1499.5,1599.4 1496.5,1597.0 1493.5,1592.9 1490.0,1583.7 1488.3,1571.7 1486.8,1543.2 1484.9,1534.2 1480.0,1524.3 1464.8,1501.2 1459.2,1489.2 1457.9,1483.2 1458.2,1477.2 1460.8,1471.2 1464.8,1466.7 1471.2,1462.2 1478.5,1458.5 1504.0,1448.8 1514.5,1443.4 1522.0,1436.6 1544.5,1409.7 1552.0,1403.4 1558.0,1400.5 1562.5,1399.6 1567.0,1399.9 1571.5,1401.4 1576.0,1404.1 1585.0,1412.3 1604.5,1436.3 1611.1,1442.7 1619.5,1447.5 1645.0,1457.1 1655.5,1462.1 1663.7,1468.2 1666.2,1471.2 1668.4,1475.7 1669.1,1483.2 1666.1,1493.7 1660.4,1504.2 1645.0,1528.0 1641.6,1535.7 1640.0,1544.7 1638.2,1576.2 1635.6,1588.2 1633.0,1593.7 1630.0,1597.4 1625.5,1600.5 1621.0,1602.0Z" fill="#0c89f2"/>
<path d="M1622.5,1600.3 1615.0,1601.4 1606.0,1600.8 1571.5,1592.3 1564.0,1591.6 1555.0,1592.5 1523.5,1600.4 1510.0,1601.3 1504.0,1600.1 1498.8,1597.2 1495.0,1593.0 1492.0,1586.7 1489.2,1573.2 1487.8,1547.7 1486.3,1537.2 1482.0,1526.7 1467.5,1504.2 1462.0,1493.7 1459.2,1483.2 1460.1,1475.7 1462.0,1471.8 1464.9,1468.2 1473.1,1462.2 1483.0,1457.4 1507.0,1448.1 1516.0,1442.9 1522.6,1436.7 1544.5,1410.9 1552.0,1404.7 1558.0,1401.8 1562.5,1401.0 1567.0,1401.3 1571.5,1402.8 1576.0,1405.4 1585.0,1413.4 1604.2,1436.7 1610.5,1442.8 1619.5,1448.0 1644.6,1457.7 1653.9,1462.2 1662.0,1468.2 1664.6,1471.2 1666.9,1475.7 1667.8,1483.2 1665.0,1493.7 1660.4,1502.7 1644.4,1528.2 1641.1,1535.7 1639.5,1544.7 1637.6,1574.7 1635.0,1586.7 1633.0,1591.3 1630.0,1595.5 1627.0,1598.1 1622.5,1600.3Z" fill="#0c99f3"/>
<path d="M1616.5,1600.2 1609.0,1600.2 1601.5,1599.2 1573.0,1592.1 1564.0,1591.1 1555.0,1591.9 1528.1,1598.7 1518.8,1600.2 1508.5,1599.9 1501.0,1597.1 1498.0,1594.6 1495.0,1590.6 1491.7,1582.2 1489.7,1570.2 1487.9,1543.2 1485.4,1532.7 1480.8,1523.7 1466.5,1501.0 1461.9,1490.7 1460.6,1484.7 1460.7,1478.7 1463.0,1472.7 1466.6,1468.2 1472.4,1463.7 1477.7,1460.7 1505.5,1449.3 1516.0,1443.5 1523.2,1436.7 1544.5,1412.1 1551.1,1406.7 1558.0,1403.2 1562.5,1402.4 1567.0,1402.7 1571.5,1404.2 1576.0,1406.7 1585.0,1414.6 1603.5,1436.7 1610.5,1443.4 1618.0,1447.9 1642.7,1457.7 1654.5,1463.7 1661.8,1469.7 1664.5,1473.6 1665.9,1477.2 1666.6,1481.7 1666.2,1486.2 1663.3,1495.2 1658.7,1504.2 1644.6,1526.7 1640.2,1537.2 1638.7,1547.7 1636.9,1573.2 1636.0,1579.3 1633.8,1586.7 1631.5,1591.4 1627.0,1596.4 1622.5,1598.9 1616.5,1600.2Z" fill="#0ca7f4"/>
<path d="M1616.5,1598.8 1604.5,1598.7 1574.5,1591.8 1564.0,1590.5 1553.5,1591.6 1530.9,1597.2 1520.5,1598.9 1509.4,1598.7 1501.8,1595.7 1496.2,1589.7 1493.5,1584.0 1492.0,1578.8 1490.5,1569.6 1488.5,1543.2 1485.4,1531.2 1480.6,1522.2 1469.5,1504.4 1463.5,1491.5 1462.0,1484.7 1462.4,1478.7 1464.8,1472.7 1468.7,1468.2 1472.3,1465.2 1479.9,1460.7 1507.0,1449.3 1514.5,1445.2 1522.7,1438.2 1544.5,1413.6 1551.1,1408.2 1558.0,1404.8 1562.5,1404.0 1567.0,1404.3 1570.2,1405.2 1576.0,1408.2 1585.0,1416.0 1604.1,1438.2 1610.5,1444.0 1619.5,1449.2 1640.5,1457.7 1652.4,1463.7 1659.8,1469.7 1663.0,1474.1 1664.2,1477.2 1665.0,1481.7 1664.8,1486.2 1661.5,1496.7 1657.0,1505.3 1643.9,1526.7 1639.6,1537.2 1638.2,1546.2 1636.0,1573.4 1633.0,1585.4 1630.0,1591.0 1627.0,1594.3 1622.5,1597.2 1616.5,1598.8Z" fill="#0ab7f8"/>
<path d="M1615.0,1597.2 1609.0,1597.6 1601.5,1596.9 1576.0,1591.4 1565.5,1589.9 1555.0,1590.6 1532.4,1595.7 1520.5,1597.5 1510.0,1596.9 1502.5,1593.6 1499.5,1590.9 1496.6,1586.7 1493.5,1578.7 1491.6,1568.7 1489.4,1544.7 1486.7,1532.7 1482.4,1523.7 1469.5,1501.9 1465.0,1490.8 1464.0,1484.7 1464.5,1478.7 1467.3,1472.7 1471.3,1468.2 1482.7,1460.7 1508.5,1449.4 1516.0,1445.0 1523.7,1438.2 1544.5,1415.4 1551.9,1409.7 1558.0,1406.9 1562.5,1406.1 1567.0,1406.4 1572.3,1408.2 1577.4,1411.2 1586.5,1419.4 1601.7,1436.7 1609.0,1443.7 1618.0,1449.3 1641.0,1459.2 1649.6,1463.7 1654.0,1466.8 1658.6,1471.2 1661.4,1475.7 1662.5,1478.7 1662.9,1486.2 1660.0,1496.6 1655.5,1505.7 1643.9,1525.2 1639.4,1535.7 1637.8,1543.2 1634.9,1571.7 1631.8,1583.7 1628.5,1589.6 1625.5,1592.8 1620.7,1595.7 1615.0,1597.2Z" fill="#08c8fc"/>
<path d="M1519.0,1595.7 1511.5,1594.9 1505.5,1592.6 1500.4,1588.2 1496.8,1582.2 1493.5,1571.0 1490.2,1543.2 1488.6,1535.7 1484.3,1525.2 1474.0,1507.2 1468.9,1496.7 1466.5,1487.7 1466.3,1483.2 1467.1,1478.7 1471.3,1471.2 1478.3,1465.2 1489.1,1459.2 1510.0,1449.7 1519.0,1443.8 1525.0,1438.2 1541.5,1420.4 1550.5,1412.9 1555.0,1410.5 1559.5,1409.0 1564.0,1408.6 1568.5,1409.2 1574.5,1411.7 1582.0,1417.2 1603.2,1439.7 1610.5,1445.9 1619.5,1451.1 1643.7,1462.2 1652.6,1468.2 1656.8,1472.7 1659.9,1478.7 1660.7,1484.7 1659.6,1492.2 1655.4,1502.7 1642.9,1525.2 1639.5,1532.7 1636.9,1543.2 1634.3,1565.7 1632.3,1576.2 1628.5,1585.5 1623.5,1591.2 1616.5,1594.6 1606.0,1595.7 1594.2,1594.2 1573.0,1589.8 1561.0,1589.1 1552.0,1590.2 1529.5,1594.8 1519.0,1595.7Z" fill="#08d9f8"/>
<path d="M1613.5,1593.0 1607.5,1593.7 1600.0,1593.5 1573.0,1588.8 1562.5,1588.1 1552.0,1589.1 1529.5,1593.2 1520.5,1593.8 1512.4,1592.7 1505.8,1589.7 1500.1,1583.7 1496.2,1574.7 1494.2,1565.7 1490.9,1541.7 1488.0,1531.2 1484.5,1523.3 1474.8,1505.7 1470.4,1495.2 1468.8,1487.7 1469.0,1481.7 1471.2,1475.7 1475.9,1469.7 1486.6,1462.2 1508.5,1451.6 1516.0,1447.2 1525.0,1439.7 1544.5,1419.9 1552.0,1414.5 1558.0,1411.9 1562.5,1411.2 1567.0,1411.5 1573.0,1413.4 1577.5,1416.1 1585.0,1422.2 1601.8,1439.7 1609.0,1446.0 1618.0,1451.5 1640.2,1462.2 1649.3,1468.2 1654.9,1474.2 1657.6,1480.2 1658.2,1487.7 1656.1,1496.7 1652.2,1505.7 1641.0,1526.7 1637.5,1535.7 1635.6,1544.7 1632.6,1567.2 1629.8,1577.7 1626.9,1583.7 1623.1,1588.2 1618.6,1591.2 1613.5,1593.0Z" fill="#08e9f5"/>
<path d="M1610.5,1591.4 1598.5,1591.7 1573.0,1587.7 1562.5,1587.1 1553.5,1587.8 1531.0,1591.4 1522.0,1591.9 1513.0,1590.5 1507.0,1587.6 1501.8,1582.2 1498.1,1574.7 1495.7,1565.7 1492.2,1543.2 1489.6,1532.7 1486.0,1524.0 1475.8,1504.2 1472.4,1495.2 1471.0,1487.7 1471.5,1481.7 1473.9,1475.7 1478.9,1469.7 1487.2,1463.7 1510.0,1452.0 1517.5,1447.4 1525.0,1441.2 1544.5,1422.1 1552.0,1416.8 1558.0,1414.3 1562.5,1413.6 1567.0,1413.9 1571.5,1415.2 1577.5,1418.4 1585.0,1424.3 1601.8,1441.2 1609.0,1447.2 1618.0,1452.7 1637.1,1462.2 1646.3,1468.2 1652.1,1474.2 1655.1,1480.2 1656.0,1487.7 1654.7,1495.2 1651.2,1504.2 1640.5,1525.2 1636.9,1534.2 1634.8,1543.2 1631.3,1565.7 1628.3,1576.2 1625.2,1582.2 1621.1,1586.7 1616.5,1589.6 1610.5,1591.4Z" fill="#1cf2e0"/>
<path d="M1607.5,1589.7 1595.5,1589.8 1573.0,1586.7 1564.0,1586.1 1553.5,1586.8 1532.5,1589.7 1523.5,1590.1 1514.5,1588.6 1508.5,1585.7 1503.5,1580.7 1499.5,1573.0 1497.0,1564.2 1493.1,1541.7 1490.7,1532.7 1487.1,1523.7 1478.2,1505.7 1474.7,1496.7 1473.3,1489.2 1473.6,1483.2 1475.8,1477.2 1480.3,1471.2 1490.3,1463.7 1517.5,1448.6 1524.9,1442.7 1544.5,1424.2 1552.0,1419.1 1558.0,1416.7 1564.0,1416.0 1568.5,1416.6 1573.0,1418.2 1579.0,1421.6 1586.5,1427.7 1601.9,1442.7 1609.0,1448.5 1636.6,1463.7 1643.2,1468.2 1649.3,1474.2 1653.0,1481.7 1653.7,1489.2 1652.3,1496.7 1648.9,1505.7 1636.4,1532.7 1634.0,1541.7 1630.0,1564.3 1627.0,1574.2 1624.0,1579.9 1619.5,1584.9 1613.7,1588.2 1607.5,1589.7Z" fill="#33f8c9"/>
<path d="M1603.0,1588.2 1594.0,1588.1 1564.0,1585.0 1553.5,1585.6 1534.0,1588.0 1525.0,1588.3 1516.0,1586.8 1510.0,1583.8 1505.2,1579.2 1501.0,1571.6 1498.0,1561.7 1494.2,1541.7 1491.8,1532.7 1479.8,1505.7 1476.7,1496.7 1475.5,1489.2 1476.1,1483.2 1478.4,1477.2 1483.2,1471.2 1493.4,1463.7 1517.5,1449.9 1524.9,1444.2 1546.0,1425.2 1552.0,1421.4 1558.0,1419.1 1564.0,1418.4 1568.5,1419.0 1573.0,1420.5 1579.0,1423.9 1585.0,1428.5 1607.5,1448.7 1615.0,1453.5 1633.5,1463.7 1642.0,1469.7 1647.6,1475.7 1650.9,1483.2 1651.4,1490.7 1649.9,1498.2 1635.3,1532.7 1628.5,1563.7 1625.3,1573.2 1621.7,1579.2 1616.5,1584.1 1610.5,1586.9 1603.0,1588.2Z" fill="#4af8af"/>
<path d="M1607.5,1585.5 1595.5,1586.6 1562.5,1583.9 1528.0,1586.6 1519.0,1585.4 1511.5,1582.0 1505.8,1576.2 1501.9,1568.7 1499.5,1561.2 1492.9,1532.7 1479.4,1499.7 1477.9,1492.2 1478.2,1484.7 1480.3,1478.7 1484.6,1472.7 1493.9,1465.2 1520.5,1449.1 1546.0,1427.4 1552.0,1423.7 1556.5,1421.9 1562.5,1420.8 1567.0,1421.0 1573.0,1422.8 1579.0,1426.1 1607.5,1450.0 1630.5,1463.7 1639.1,1469.7 1644.8,1475.7 1648.0,1481.7 1649.3,1489.2 1648.0,1498.2 1644.9,1507.2 1634.1,1532.7 1627.9,1559.7 1625.1,1568.7 1622.2,1574.7 1618.0,1579.9 1613.5,1583.2 1607.5,1585.5Z" fill="#62f896"/>
<path d="M1606.0,1583.7 1594.0,1584.9 1562.5,1582.8 1529.5,1584.9 1520.5,1583.6 1513.0,1580.2 1507.4,1574.7 1503.2,1567.2 1500.3,1558.2 1493.6,1531.2 1482.2,1502.7 1480.1,1493.7 1480.2,1486.2 1482.8,1478.7 1487.4,1472.7 1496.8,1465.2 1520.9,1450.2 1546.0,1429.5 1556.5,1424.1 1562.5,1423.1 1567.0,1423.3 1573.0,1425.1 1579.0,1428.2 1606.0,1450.3 1636.2,1469.7 1642.1,1475.7 1646.1,1483.2 1647.1,1490.7 1645.7,1499.7 1632.9,1532.7 1626.7,1558.2 1624.0,1566.6 1620.7,1573.2 1616.5,1578.2 1612.0,1581.4 1606.0,1583.7Z" fill="#7cf87f"/>
<path d="M1603.0,1582.4 1591.0,1583.3 1562.5,1581.7 1531.0,1583.2 1522.0,1581.9 1514.5,1578.6 1508.5,1572.8 1504.0,1564.4 1494.8,1531.2 1483.9,1502.7 1482.1,1493.7 1482.4,1486.2 1484.5,1480.2 1489.0,1473.8 1497.3,1466.7 1522.0,1450.8 1544.5,1432.6 1550.5,1428.8 1556.5,1426.3 1562.5,1425.3 1568.5,1425.8 1574.5,1427.8 1580.5,1431.2 1606.0,1451.7 1633.5,1469.7 1640.7,1477.2 1644.2,1484.7 1645.0,1492.2 1643.6,1501.2 1632.2,1531.2 1625.5,1556.9 1622.5,1565.6 1619.2,1571.7 1615.0,1576.6 1609.0,1580.5 1603.0,1582.4Z" fill="#96f868"/>
<path d="M1601.5,1580.7 1591.0,1581.7 1564.0,1580.5 1532.5,1581.6 1523.5,1580.2 1516.0,1576.9 1510.0,1571.3 1505.2,1562.7 1496.0,1531.2 1486.1,1504.2 1484.2,1495.2 1484.4,1487.7 1486.9,1480.2 1491.3,1474.2 1498.0,1468.2 1522.0,1452.2 1544.5,1434.6 1550.5,1430.9 1556.5,1428.5 1562.5,1427.5 1568.5,1428.0 1574.5,1430.0 1580.5,1433.3 1604.5,1452.0 1630.8,1469.7 1638.1,1477.2 1641.9,1484.7 1643.0,1492.2 1641.8,1501.2 1631.0,1531.2 1621.8,1562.7 1618.0,1569.9 1613.5,1575.0 1607.5,1578.8 1601.5,1580.7Z" fill="#aff851"/>
<path d="M1598.5,1579.2 1589.5,1580.0 1564.0,1579.2 1534.0,1579.9 1523.5,1578.0 1516.9,1574.7 1510.8,1568.7 1506.0,1559.7 1497.4,1531.2 1487.9,1504.2 1486.3,1495.2 1486.7,1487.7 1489.0,1481.2 1494.1,1474.2 1500.9,1468.2 1522.0,1453.8 1543.0,1437.7 1550.5,1433.1 1556.5,1430.8 1562.5,1429.8 1568.5,1430.3 1574.5,1432.2 1582.0,1436.4 1603.0,1452.6 1629.7,1471.2 1636.5,1478.7 1639.9,1486.2 1640.7,1495.2 1639.1,1504.2 1629.6,1531.2 1620.4,1561.2 1616.5,1568.3 1612.0,1573.2 1606.0,1577.0 1598.5,1579.2Z" fill="#c7fa3c"/>
<path d="M1592.5,1577.8 1537.0,1578.0 1526.5,1576.4 1519.0,1573.0 1512.8,1567.2 1507.0,1556.8 1490.4,1505.7 1488.8,1496.7 1489.1,1489.2 1491.6,1481.7 1495.8,1475.7 1504.1,1468.2 1541.5,1441.1 1549.0,1436.4 1556.5,1433.4 1564.0,1432.4 1570.0,1433.3 1576.0,1435.5 1583.5,1439.8 1626.5,1471.2 1633.5,1478.7 1636.1,1483.2 1637.6,1487.7 1638.2,1496.7 1636.6,1505.7 1621.7,1552.2 1618.0,1561.2 1613.5,1568.1 1607.6,1573.2 1601.0,1576.2 1592.5,1577.8Z" fill="#defc29"/>
<path d="M1595.5,1574.9 1583.5,1576.1 1540.0,1576.0 1529.5,1574.4 1520.5,1570.5 1513.9,1564.2 1508.5,1554.5 1493.5,1508.8 1491.6,1499.7 1491.7,1490.7 1494.1,1483.2 1498.0,1477.1 1507.6,1468.2 1538.5,1445.7 1547.5,1439.9 1555.0,1436.6 1562.5,1435.3 1568.5,1435.8 1576.0,1438.2 1583.5,1442.4 1623.0,1471.2 1630.1,1478.7 1632.9,1483.2 1634.6,1487.7 1635.6,1496.7 1634.3,1505.7 1618.0,1555.7 1613.5,1563.6 1609.0,1568.6 1603.0,1572.5 1595.5,1574.9Z" fill="#f5fe1d"/>
<path d="M1588.0,1573.3 1574.5,1573.8 1540.0,1573.4 1530.9,1571.7 1522.0,1567.5 1515.6,1561.2 1510.0,1551.3 1496.5,1510.2 1494.6,1499.7 1495.0,1490.7 1497.7,1483.2 1501.8,1477.2 1511.5,1468.2 1538.3,1448.7 1548.2,1442.7 1556.5,1439.5 1564.0,1438.6 1571.2,1439.7 1578.7,1442.7 1586.3,1447.2 1613.3,1466.7 1620.7,1472.7 1627.4,1480.2 1630.0,1484.7 1631.6,1489.2 1632.5,1498.2 1630.9,1508.7 1621.0,1540.5 1615.0,1555.5 1610.5,1562.4 1604.5,1567.8 1597.0,1571.4 1588.0,1573.3Z" fill="#fff115"/>
<path d="M1585.0,1570.4 1568.5,1571.2 1544.5,1570.7 1534.0,1568.8 1525.0,1564.8 1517.9,1558.2 1512.6,1549.2 1506.3,1532.7 1500.0,1511.7 1498.3,1502.7 1498.4,1493.7 1500.6,1486.2 1505.2,1478.7 1516.0,1468.4 1535.5,1454.1 1547.5,1446.8 1556.5,1443.4 1564.0,1442.5 1571.5,1443.6 1579.0,1446.6 1589.5,1452.9 1607.5,1465.8 1617.5,1474.2 1624.9,1483.2 1628.0,1490.7 1628.9,1499.7 1627.4,1510.2 1618.7,1538.7 1612.9,1552.2 1607.8,1559.7 1601.5,1565.1 1594.0,1568.5 1585.0,1570.4Z" fill="#ffd811"/>
<path d="M1571.5,1568.8 1552.0,1568.6 1540.0,1567.3 1531.0,1564.4 1523.5,1559.5 1517.4,1552.2 1512.1,1541.7 1504.5,1519.2 1501.4,1504.2 1501.5,1495.2 1503.5,1487.7 1507.8,1480.2 1513.3,1474.2 1526.5,1463.4 1543.0,1452.3 1552.0,1447.9 1561.0,1445.9 1570.0,1446.5 1579.0,1449.7 1591.0,1456.8 1606.0,1467.7 1615.0,1475.6 1620.2,1481.7 1624.1,1489.2 1625.7,1496.7 1625.0,1508.7 1620.7,1525.2 1614.2,1543.2 1607.5,1555.2 1601.5,1561.2 1594.0,1565.3 1585.0,1567.6 1571.5,1568.8Z" fill="#ffc20e"/>
<path d="M1580.5,1565.8 1564.0,1566.7 1547.5,1566.0 1537.0,1563.8 1528.0,1559.4 1520.7,1552.2 1515.4,1543.2 1509.6,1528.2 1505.0,1511.7 1503.9,1502.7 1504.6,1493.7 1507.3,1486.2 1512.4,1478.7 1521.9,1469.7 1537.0,1458.7 1547.5,1452.6 1558.0,1449.1 1565.5,1448.7 1574.5,1450.6 1583.5,1454.8 1595.5,1462.5 1606.7,1471.2 1615.0,1479.3 1620.4,1487.7 1622.7,1495.2 1622.9,1505.7 1620.6,1517.7 1614.8,1535.7 1609.0,1548.2 1603.8,1555.2 1597.0,1560.7 1589.5,1563.9 1580.5,1565.8Z" fill="#ffab0c"/>
<path d="M1574.5,1564.3 1559.5,1564.7 1546.0,1563.5 1535.5,1560.6 1528.0,1556.1 1521.5,1549.2 1516.4,1540.2 1510.7,1525.2 1506.8,1508.7 1506.4,1499.7 1507.7,1492.2 1511.1,1484.7 1516.9,1477.2 1528.0,1467.5 1541.5,1458.3 1550.5,1453.9 1559.5,1451.5 1567.0,1451.5 1576.0,1453.7 1585.0,1458.1 1597.0,1466.1 1606.9,1474.2 1613.8,1481.7 1618.2,1489.2 1620.3,1496.7 1620.4,1507.2 1617.7,1520.7 1612.6,1535.7 1606.0,1548.5 1600.1,1555.2 1594.0,1559.4 1586.5,1562.3 1574.5,1564.3Z" fill="#fd980c"/>
<path d="M1571.5,1562.7 1558.0,1562.9 1546.0,1561.6 1537.0,1558.9 1528.5,1553.7 1522.0,1546.3 1517.0,1537.2 1512.1,1523.7 1508.7,1508.7 1508.5,1499.7 1510.0,1492.2 1513.6,1484.7 1518.2,1478.7 1528.0,1469.7 1540.0,1461.3 1550.5,1456.0 1559.5,1453.7 1567.0,1453.7 1576.0,1455.9 1585.0,1460.2 1596.9,1468.2 1605.8,1475.7 1612.3,1483.2 1616.4,1490.7 1618.3,1498.2 1618.3,1508.7 1615.4,1522.2 1610.0,1537.2 1604.0,1547.7 1598.5,1553.7 1591.0,1558.5 1582.0,1561.3 1571.5,1562.7Z" fill="#fb860c"/>
<path d="M1568.5,1561.2 1556.5,1561.1 1544.5,1559.4 1535.5,1556.0 1528.1,1550.7 1522.2,1543.2 1517.5,1534.1 1512.9,1520.7 1510.4,1507.2 1510.7,1498.2 1512.7,1490.7 1516.0,1484.5 1522.1,1477.2 1532.5,1468.3 1543.0,1461.6 1552.0,1457.5 1561.0,1455.6 1570.0,1456.1 1579.0,1459.1 1589.5,1465.0 1599.9,1472.7 1607.5,1480.1 1612.0,1486.2 1615.3,1493.7 1616.7,1501.2 1615.8,1513.2 1612.3,1526.7 1607.5,1538.5 1601.6,1547.7 1595.5,1553.5 1588.0,1557.6 1579.0,1560.1 1568.5,1561.2Z" fill="#f8710c"/>
<path d="M1577.5,1558.4 1564.0,1559.5 1550.5,1558.5 1542.7,1556.7 1533.5,1552.2 1527.0,1546.2 1522.0,1538.9 1517.5,1529.0 1513.5,1514.7 1512.4,1505.7 1513.0,1497.4 1515.8,1489.2 1519.5,1483.2 1528.0,1474.3 1538.1,1466.7 1549.0,1460.8 1556.5,1458.5 1564.4,1457.7 1573.0,1459.1 1580.9,1462.2 1591.0,1468.2 1600.4,1475.7 1607.4,1483.2 1611.9,1490.7 1613.8,1496.7 1614.6,1505.7 1613.5,1515.2 1610.5,1526.3 1604.5,1539.8 1600.0,1546.3 1593.5,1552.2 1586.5,1555.9 1577.5,1558.4Z" fill="#f45b0c"/>
<path d="M1568.5,1556.7 1557.8,1556.7 1547.5,1555.1 1539.5,1552.2 1532.5,1547.6 1526.5,1540.8 1521.2,1531.2 1517.5,1520.6 1515.4,1508.7 1515.5,1501.2 1517.2,1493.7 1520.5,1486.9 1525.7,1480.2 1534.0,1472.8 1543.2,1466.7 1552.0,1462.7 1561.0,1460.8 1568.5,1461.2 1577.5,1463.7 1586.2,1468.2 1594.7,1474.2 1601.5,1480.6 1606.9,1487.7 1610.3,1495.2 1611.6,1502.7 1611.1,1513.2 1608.6,1523.7 1604.4,1534.2 1598.7,1543.2 1592.5,1549.2 1586.5,1552.7 1579.0,1555.2 1568.5,1556.7Z" fill="#f6420c"/>
<path d="M1576.0,1552.4 1565.5,1553.6 1555.0,1553.0 1546.0,1551.0 1539.0,1547.7 1533.3,1543.2 1528.0,1536.7 1523.5,1528.1 1520.2,1517.7 1518.9,1508.7 1519.2,1501.2 1521.2,1493.7 1525.0,1486.7 1531.0,1479.7 1539.7,1472.7 1547.7,1468.2 1556.5,1465.2 1564.0,1464.5 1571.5,1465.5 1579.0,1468.1 1587.1,1472.7 1594.8,1478.7 1601.5,1486.1 1605.1,1492.2 1607.5,1499.5 1608.1,1507.2 1607.1,1516.2 1604.5,1525.6 1600.0,1535.1 1595.5,1541.4 1590.2,1546.2 1583.5,1550.0 1576.0,1552.4Z" fill="#f92b0d"/>
<path d="M1567.0,1549.2 1558.0,1549.0 1550.5,1547.6 1543.3,1544.7 1537.0,1540.3 1532.5,1535.3 1528.0,1527.6 1525.0,1519.2 1523.5,1510.2 1523.7,1502.7 1525.1,1496.7 1528.0,1490.5 1532.5,1484.5 1538.7,1478.7 1546.0,1474.0 1553.5,1470.8 1561.0,1469.3 1568.5,1469.6 1574.6,1471.2 1582.0,1474.6 1589.5,1479.8 1594.6,1484.7 1599.0,1490.7 1601.8,1496.7 1603.4,1504.2 1603.4,1511.7 1601.6,1520.7 1598.5,1528.7 1594.0,1535.9 1589.5,1540.7 1583.5,1544.8 1576.0,1547.8 1567.0,1549.2Z" fill="#fd190f"/>
<path d="M1573.0,1542.0 1567.0,1543.0 1559.5,1543.0 1552.0,1541.4 1546.0,1538.7 1540.2,1534.2 1536.4,1529.7 1533.1,1523.7 1531.0,1517.7 1529.8,1510.2 1530.1,1504.2 1531.6,1498.2 1534.6,1492.2 1538.5,1487.3 1544.5,1482.1 1550.5,1478.7 1556.5,1476.7 1562.5,1475.8 1568.5,1476.3 1574.5,1477.9 1580.5,1480.9 1586.5,1485.4 1591.0,1490.3 1594.1,1495.2 1596.3,1501.2 1597.2,1507.2 1596.9,1513.2 1595.1,1520.7 1592.5,1526.7 1589.5,1531.2 1585.0,1535.9 1579.0,1539.8 1573.0,1542.0Z" fill="#f30f0f"/>
<path d="M1570.0,1536.0 1565.5,1536.6 1559.5,1536.4 1553.5,1534.9 1549.0,1532.7 1544.5,1529.1 1541.3,1525.2 1538.8,1520.7 1537.0,1515.0 1536.4,1510.2 1536.9,1504.2 1538.2,1499.7 1540.5,1495.2 1544.2,1490.7 1547.8,1487.7 1553.1,1484.7 1558.0,1483.1 1562.5,1482.5 1568.5,1483.0 1574.5,1485.0 1579.0,1487.6 1582.7,1490.7 1586.4,1495.2 1588.8,1499.7 1590.1,1504.2 1590.6,1508.7 1590.1,1514.7 1586.5,1524.0 1583.4,1528.2 1579.0,1532.0 1574.5,1534.5 1570.0,1536.0Z" fill="#dd0e0e"/>
<path d="M1568.5,1529.8 1561.0,1530.3 1553.5,1527.9 1549.7,1525.2 1546.9,1522.2 1543.4,1514.7 1542.9,1507.2 1545.3,1499.7 1550.5,1493.5 1558.0,1489.7 1565.5,1489.0 1573.0,1491.3 1579.6,1496.7 1583.5,1504.2 1584.2,1508.7 1583.9,1513.2 1581.1,1520.7 1576.0,1526.3 1568.5,1529.8Z" fill="#c50f0f"/>
<path d="M1567.0,1523.9 1561.0,1524.1 1556.0,1522.2 1552.0,1518.7 1549.3,1513.2 1549.1,1507.2 1550.7,1502.7 1554.5,1498.2 1559.5,1495.7 1565.5,1495.3 1570.0,1496.7 1574.5,1500.2 1577.5,1505.7 1577.9,1511.7 1576.0,1517.2 1571.5,1521.9 1567.0,1523.9Z" fill="#ae1010"/>
<path d="M1565.5,1518.1 1562.5,1518.3 1559.5,1517.4 1556.5,1514.8 1555.1,1511.7 1554.9,1508.7 1555.8,1505.7 1558.0,1503.0 1561.0,1501.4 1564.0,1501.1 1567.0,1501.8 1570.0,1504.0 1571.8,1507.2 1571.9,1511.7 1570.6,1514.7 1568.5,1516.8 1565.5,1518.1Z" fill="#9d1010"/>
</g></g>
<g filter="url(#b1)" clip-path="url(#starclip)"><path d="M1564.01,1381.08 L1564.56,1366.18 L1565.59,1366.18 L1563.44,1361.08 L1561.3,1366.19 L1562.32,1366.19 L1562.89,1381.08Z" fill="#ff1e00"/><path d="M1564.15,1404.57 L1564.85,1385.95 L1566.12,1385.95 L1563.44,1379.57 L1560.77,1385.95 L1562.05,1385.95 L1562.75,1404.57Z" fill="#ff1e00"/><path d="M1564.3,1440.39 L1565.13,1418.04 L1566.66,1418.03 L1563.44,1410.39 L1560.23,1418.04 L1561.77,1418.04 L1562.62,1440.39Z" fill="#ff1e00"/><path d="M1564.31,1473.25 L1565.13,1450.9 L1566.66,1450.9 L1563.44,1443.25 L1560.24,1450.91 L1561.77,1450.91 L1562.63,1473.25Z" fill="#ff1e00"/><path d="M1562.85,1544.51 L1562.22,1560.9 L1561.09,1560.9 L1563.44,1566.51 L1565.8,1560.9 L1564.68,1560.9 L1564.08,1544.51Z" fill="#ff1e00"/><path d="M1540.58,1439.04 L1537.92,1429.72 L1538.48,1429.53 L1536.12,1426.82 L1535.84,1430.4 L1536.4,1430.22 L1539.82,1439.29Z" fill="#ff1e00"/><path d="M1587.18,1439.29 L1590.6,1430.22 L1591.16,1430.4 L1590.88,1426.82 L1588.52,1429.53 L1589.08,1429.72 L1586.42,1439.04Z" fill="#ff1e00"/><path d="M1534.05,1461.97 L1530.96,1456.29 L1531.19,1456.14 L1528.93,1454.55 L1529.38,1457.28 L1529.61,1457.14 L1533.37,1462.39Z" fill="#ff1e00"/><path d="M1593.63,1462.39 L1597.39,1457.14 L1597.62,1457.28 L1598.07,1454.55 L1595.81,1456.14 L1596.04,1456.29 L1592.95,1461.97Z" fill="#ff1e00"/><path d="M1444.16,1468.27 L1428.85,1462.39 L1429.21,1461.33 L1423.14,1461.74 L1427.69,1465.79 L1428.05,1464.72 L1443.76,1469.44Z" fill="#ff1e00"/><path d="M1683.24,1469.44 L1698.95,1464.72 L1699.31,1465.79 L1703.86,1461.74 L1697.79,1461.33 L1698.15,1462.39 L1682.84,1468.27Z" fill="#ff1e00"/><path d="M1472.23,1468.12 L1457.52,1460.86 L1457.98,1459.83 L1451.9,1459.69 L1456.05,1464.13 L1456.51,1463.11 L1471.72,1469.25Z" fill="#ff1e00"/><path d="M1655.28,1469.25 L1670.49,1463.11 L1670.95,1464.13 L1675.1,1459.69 L1669.02,1459.83 L1669.48,1460.86 L1654.77,1468.12Z" fill="#ff1e00"/><path d="M1501.95,1469.94 L1489.67,1461.48 L1490.22,1460.61 L1484.77,1459.69 L1487.92,1464.23 L1488.47,1463.37 L1501.35,1470.88Z" fill="#ff1e00"/><path d="M1625.65,1470.88 L1638.53,1463.37 L1639.08,1464.23 L1642.23,1459.69 L1636.78,1460.61 L1637.33,1461.48 L1625.05,1469.94Z" fill="#ff1e00"/><path d="M1475.22,1487.98 L1455.1,1482.4 L1455.43,1481.01 L1447.79,1482.28 L1454.05,1486.85 L1454.38,1485.46 L1474.85,1489.5Z" fill="#ff1e00"/><path d="M1652.15,1489.5 L1672.62,1485.46 L1672.95,1486.85 L1679.21,1482.28 L1671.57,1481.01 L1671.9,1482.4 L1651.78,1487.98Z" fill="#ff1e00"/><path d="M1500.74,1490.67 L1483.06,1484.78 L1483.42,1483.55 L1476.55,1484.34 L1481.92,1488.69 L1482.28,1487.47 L1500.35,1492.01Z" fill="#ff1e00"/><path d="M1626.65,1492.01 L1644.72,1487.47 L1645.08,1488.69 L1650.45,1484.34 L1643.58,1483.55 L1643.94,1484.78 L1626.26,1490.67Z" fill="#ff1e00"/><path d="M1503.84,1519.42 L1497.42,1520.1 L1497.37,1519.83 L1495.04,1521.31 L1497.73,1521.94 L1497.68,1521.68 L1503.98,1520.2Z" fill="#ff1e00"/><path d="M1623.02,1520.2 L1629.32,1521.68 L1629.27,1521.94 L1631.96,1521.31 L1629.63,1519.83 L1629.58,1520.1 L1623.16,1519.42Z" fill="#ff1e00"/><path d="M1504.67,1552.17 L1492.32,1560.53 L1491.72,1559.71 L1488.87,1564.45 L1494.25,1563.16 L1493.65,1562.34 L1505.33,1553.07Z" fill="#ff1e00"/><path d="M1621.67,1553.07 L1633.35,1562.34 L1632.75,1563.16 L1638.13,1564.45 L1635.28,1559.71 L1634.68,1560.53 L1622.33,1552.17Z" fill="#ff1e00"/><path d="M1532.33,1550.55 L1522.05,1563.33 L1521.15,1562.65 L1519.69,1568.56 L1524.93,1565.47 L1524.03,1564.8 L1533.32,1551.28Z" fill="#ff1e00"/><path d="M1593.68,1551.28 L1602.97,1564.8 L1602.07,1565.47 L1607.31,1568.56 L1605.85,1562.65 L1604.95,1563.33 L1594.67,1550.55Z" fill="#ff1e00"/><path d="M1504.18,1579.44 L1490.2,1594.95 L1489.1,1594.03 L1486.82,1601.43 L1493.7,1597.87 L1492.6,1596.96 L1505.38,1580.45Z" fill="#ff1e00"/><path d="M1621.62,1580.45 L1634.4,1596.96 L1633.3,1597.87 L1640.18,1601.43 L1637.9,1594.03 L1636.8,1594.95 L1622.82,1579.44Z" fill="#ff1e00"/><path d="M1529.83,1578.57 L1521.17,1595.07 L1520.02,1594.52 L1519.69,1601.43 L1524.85,1596.83 L1523.7,1596.28 L1531.09,1579.17Z" fill="#ff1e00"/><path d="M1595.91,1579.17 L1603.3,1596.28 L1602.15,1596.83 L1607.31,1601.43 L1606.98,1594.52 L1605.83,1595.07 L1597.17,1578.57Z" fill="#ff1e00"/><path d="M1484.46,1608.03 L1474.74,1619.34 L1473.94,1618.7 L1472.44,1624.03 L1477.29,1621.37 L1476.49,1620.73 L1485.34,1608.73Z" fill="#ff1e00"/><path d="M1641.66,1608.73 L1650.51,1620.73 L1649.71,1621.37 L1654.56,1624.03 L1653.06,1618.7 L1652.26,1619.34 L1642.54,1608.03Z" fill="#ff1e00"/><path d="M1501.1,1607.47 L1491,1622.24 L1489.96,1621.59 L1488.87,1628.13 L1494.31,1624.33 L1493.27,1623.67 L1502.24,1608.19Z" fill="#ff1e00"/><path d="M1624.76,1608.19 L1633.73,1623.67 L1632.69,1624.33 L1638.13,1628.13 L1637.04,1621.59 L1636,1622.24 L1625.9,1607.47Z" fill="#ff1e00"/><path d="M1475.66,1629.71 L1469.64,1637.31 L1469.16,1636.96 L1468.33,1640.46 L1471.41,1638.6 L1470.93,1638.25 L1476.31,1630.18Z" fill="#ff1e00"/><path d="M1650.69,1630.18 L1656.07,1638.25 L1655.59,1638.6 L1658.67,1640.46 L1657.84,1636.96 L1657.36,1637.31 L1651.34,1629.71Z" fill="#ff1e00"/><path d="M1515.1,1545.78 L1508.91,1549.95 L1508.75,1549.74 L1507.36,1552.13 L1510.04,1551.45 L1509.88,1551.23 L1515.58,1546.42Z" fill="#ff1e00"/><path d="M1611.42,1546.42 L1617.12,1551.23 L1616.96,1551.45 L1619.64,1552.13 L1618.25,1549.74 L1618.09,1549.95 L1611.9,1545.78Z" fill="#ff1e00"/></g>
</g><g id="cbar_g">
<rect x="1753.5" y="667" width="20.5" height="1118.5" fill="url(#cbar)" stroke="#707068" stroke-width="1"/>
<line x1="1753.5" y1="827" x2="1756.5" y2="827" stroke="#40403a" stroke-width="1"/>
<line x1="1771" y1="827" x2="1774" y2="827" stroke="#40403a" stroke-width="1"/>
<line x1="1753.5" y1="933" x2="1756.5" y2="933" stroke="#40403a" stroke-width="1"/>
<line x1="1771" y1="933" x2="1774" y2="933" stroke="#40403a" stroke-width="1"/>
<line x1="1753.5" y1="1041" x2="1756.5" y2="1041" stroke="#40403a" stroke-width="1"/>
<line x1="1771" y1="1041" x2="1774" y2="1041" stroke="#40403a" stroke-width="1"/>
<line x1="1753.5" y1="1147" x2="1756.5" y2="1147" stroke="#40403a" stroke-width="1"/>
<line x1="1771" y1="1147" x2="1774" y2="1147" stroke="#40403a" stroke-width="1"/>
<line x1="1753.5" y1="1253" x2="1756.5" y2="1253" stroke="#40403a" stroke-width="1"/>
<line x1="1771" y1="1253" x2="1774" y2="1253" stroke="#40403a" stroke-width="1"/>
<line x1="1753.5" y1="1359" x2="1756.5" y2="1359" stroke="#40403a" stroke-width="1"/>
<line x1="1771" y1="1359" x2="1774" y2="1359" stroke="#40403a" stroke-width="1"/>
<line x1="1753.5" y1="1466" x2="1756.5" y2="1466" stroke="#40403a" stroke-width="1"/>
<line x1="1771" y1="1466" x2="1774" y2="1466" stroke="#40403a" stroke-width="1"/>
<line x1="1753.5" y1="1571.5" x2="1756.5" y2="1571.5" stroke="#40403a" stroke-width="1"/>
<line x1="1771" y1="1571.5" x2="1774" y2="1571.5" stroke="#40403a" stroke-width="1"/>
<line x1="1753.5" y1="1678" x2="1756.5" y2="1678" stroke="#40403a" stroke-width="1"/>
<line x1="1771" y1="1678" x2="1774" y2="1678" stroke="#40403a" stroke-width="1"/>
<text x="1735.56" y="639" font-size="38.5" font-weight="bold" fill="#000">m/s</text>
<text x="1795.74" y="731.4" font-size="38" font-weight="bold" fill="#000">1</text>
<text x="1799.18" y="1267.2" font-size="38" font-weight="bold" fill="#000">0.5</text>
<text x="1798.96" y="1780.3" font-size="38.5" font-weight="bold" fill="#000">0</text>
</g>
</svg>
</body>
</html>
